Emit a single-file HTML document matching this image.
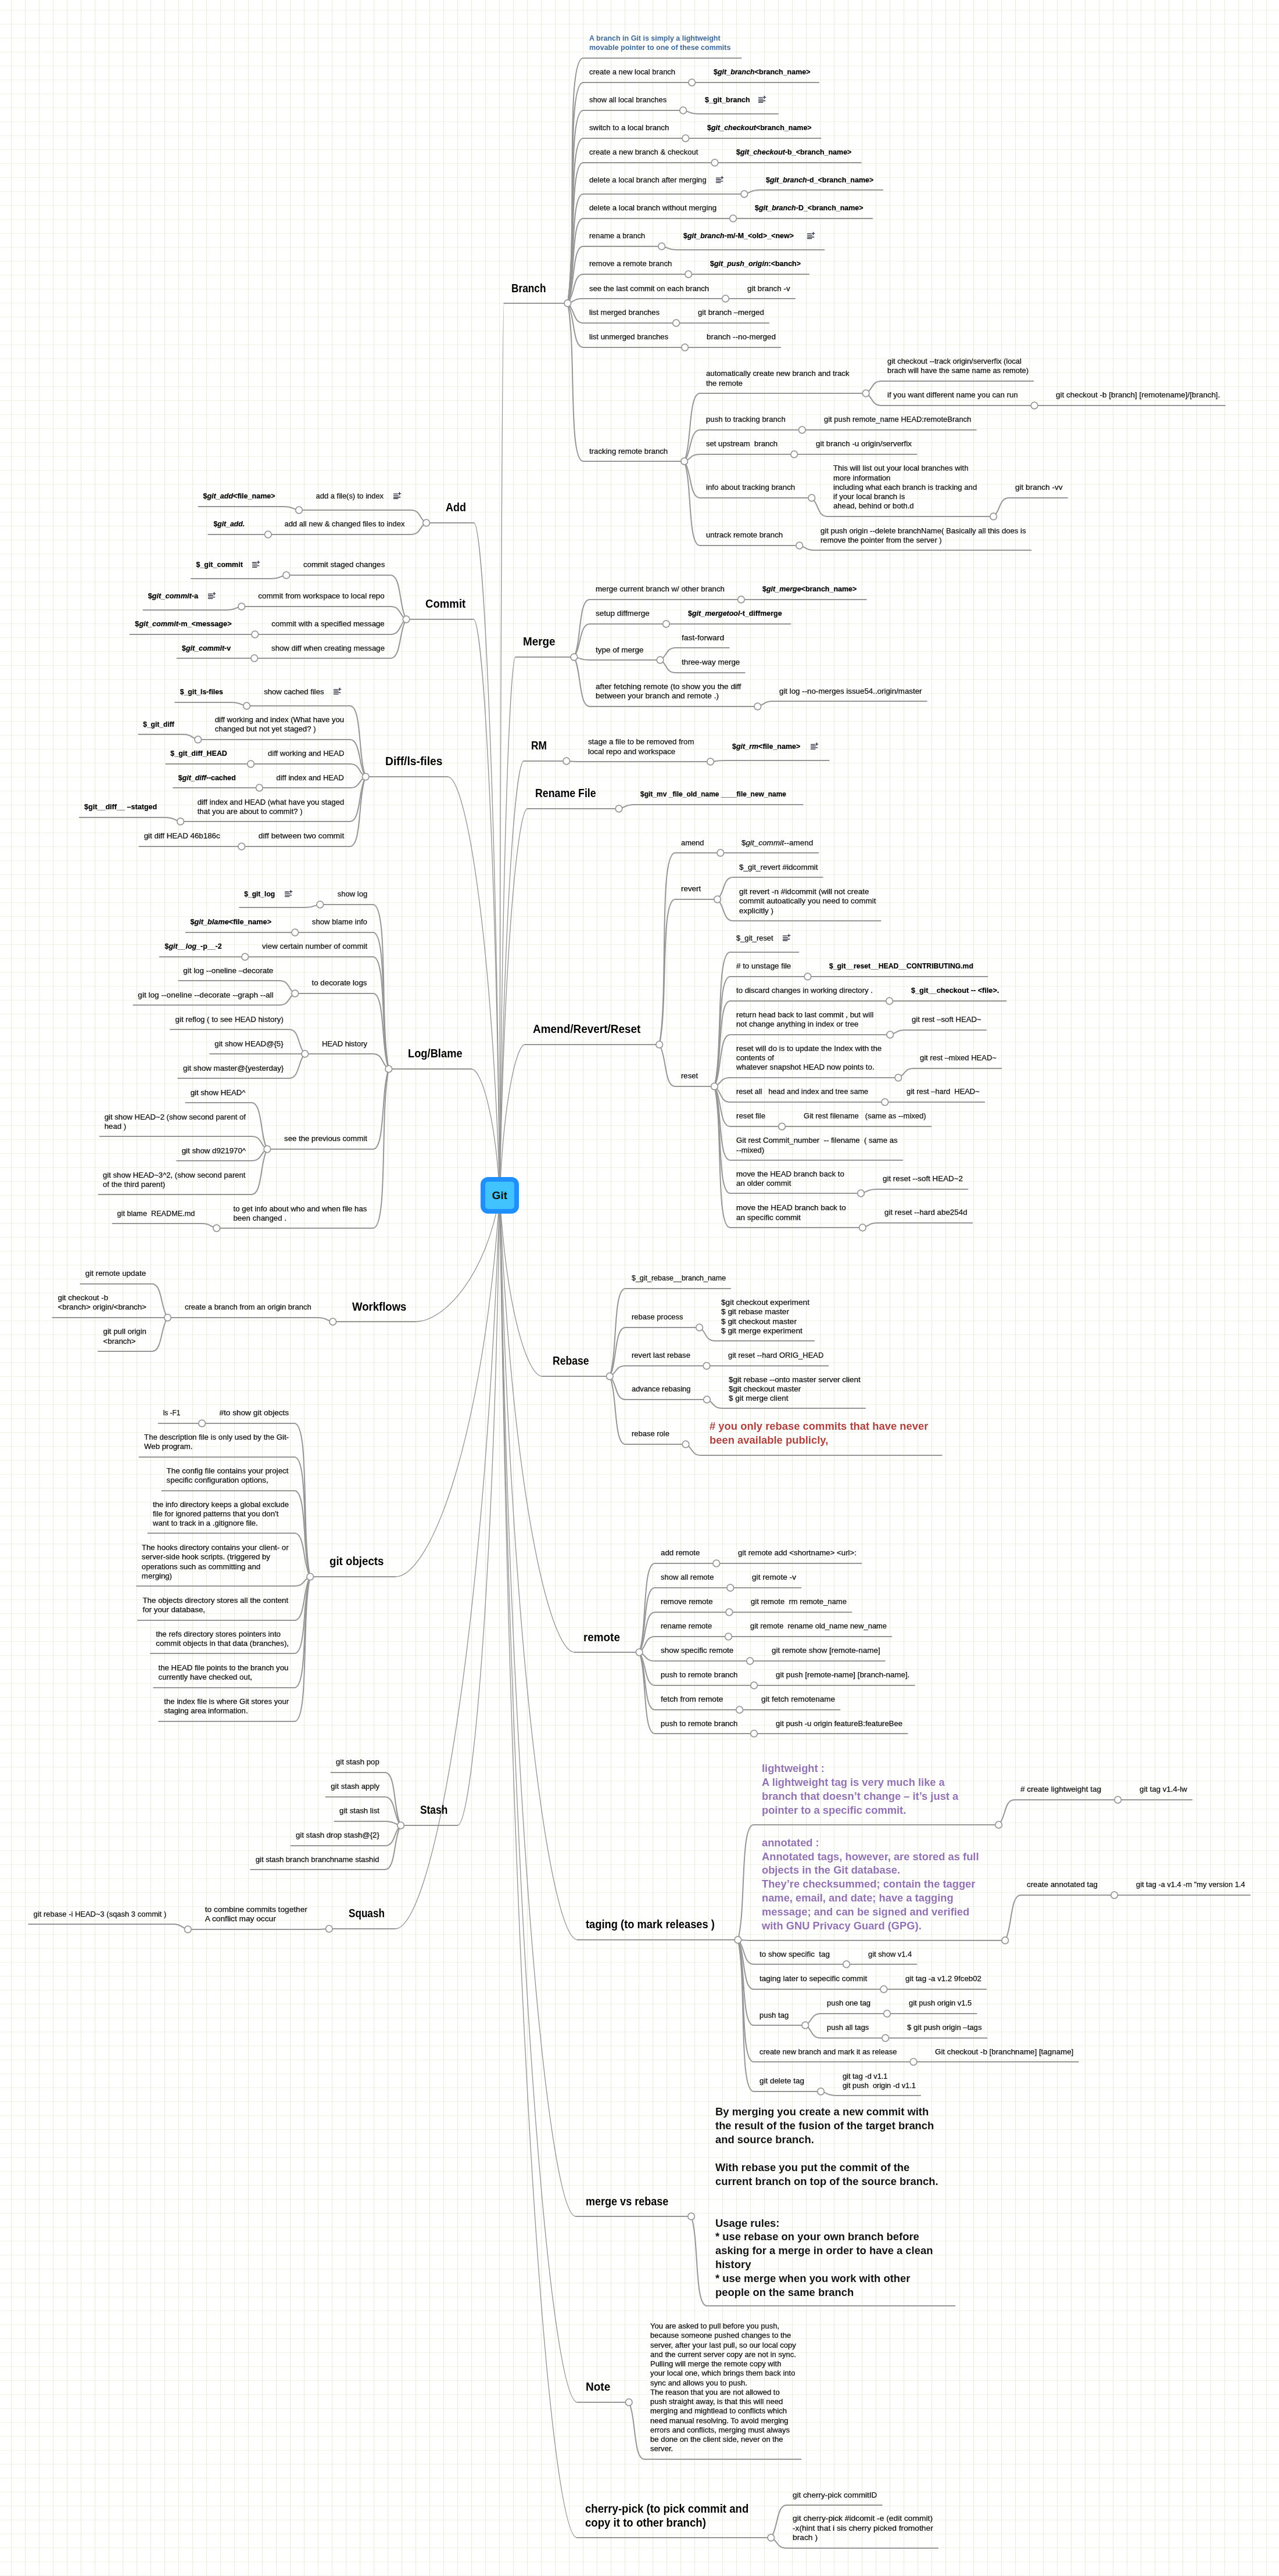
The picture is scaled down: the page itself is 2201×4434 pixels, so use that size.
<!DOCTYPE html>
<html><head><meta charset="utf-8"><style>
html,body{margin:0;padding:0;}
body{width:2201px;height:4434px;overflow:hidden;position:relative;background:#ffffff;
background-image:linear-gradient(to right,#e5eddb 1px,transparent 1px),linear-gradient(to bottom,#eef5e7 1px,transparent 1px);
background-size:24px 24px;background-position:19px 0,0 17px;font-family:"Liberation Sans",sans-serif;}
.t{position:absolute;white-space:pre;margin:0;}
.n{font-size:13px;font-weight:400;color:#111;-webkit-text-stroke:0.25px #111;}
.b{font-size:13px;font-weight:700;color:#000;-webkit-text-stroke:0.2px #000;}
.blue{font-size:13px;font-weight:700;color:#3f6a9a;}
.main{font-size:19.5px;font-weight:700;color:#000;}
.red{font-size:18.7px;font-weight:700;color:#b0413e;transform:scaleX(0.985);transform-origin:0 0;}
.purple{font-size:18.7px;font-weight:700;color:#9272b3;transform:scaleX(0.98);transform-origin:0 0;}
.big{font-size:18.7px;font-weight:700;color:#111;transform:scaleX(0.985);transform-origin:0 0;}
svg{position:absolute;left:0;top:0;}
#tl{position:absolute;left:0;top:0;width:2201px;height:4434px;will-change:transform;}
#git{position:absolute;left:827px;top:2026px;width:66px;height:63px;box-sizing:border-box;border:8px solid #1e8ffc;border-radius:13px;background:#41c4fe;}
#git span{position:absolute;left:0;right:0;top:50%;transform:translateY(-50%);text-align:center;font-size:19px;font-weight:700;color:#111;line-height:20px;}
</style></head><body>

<svg width="2201" height="4434" viewBox="0 0 2201 4434">
<g fill="none" stroke="#969696" stroke-linecap="round">
<path d="M860.0,2057.0 C861.2,1077.7 864.9,522.0 867.4,522.0" stroke-width="1.35"/>
<path d="M867.4,522.0 L976.8,522.0" stroke-width="2.0"/>
<path d="M976.8,522.0 C994.1,408.1 971.4,100.0 1003.8,100.0" stroke-width="2.0"/>
<path d="M1003.8,100.0 L1275.5,100.0" stroke-width="2.0"/>
<path d="M976.8,522.0 C993.5,419.4 973.0,142.0 1003.8,142.0" stroke-width="2.0"/>
<path d="M1003.8,142.0 L1190.6,142.0" stroke-width="2.0"/>
<path d="M1190.6,142.0 L1217.6,142.0" stroke-width="2.0"/>
<path d="M1217.6,142.0 L1409.0,142.0" stroke-width="2.0"/>
<path d="M976.8,522.0 C992.9,432.4 974.9,190.0 1003.8,190.0" stroke-width="2.0"/>
<path d="M1003.8,190.0 L1175.6,190.0" stroke-width="2.0"/>
<path d="M1175.6,190.0 C1187.8,191.6 1184.8,196.0 1202.6,196.0" stroke-width="2.0"/>
<path d="M1202.6,196.0 L1339.0,196.0" stroke-width="2.0"/>
<path d="M976.8,522.0 C992.2,445.3 976.8,238.0 1003.8,238.0" stroke-width="2.0"/>
<path d="M1003.8,238.0 L1179.8,238.0" stroke-width="2.0"/>
<path d="M1179.8,238.0 L1206.8,238.0" stroke-width="2.0"/>
<path d="M1206.8,238.0 L1412.5,238.0" stroke-width="2.0"/>
<path d="M976.8,522.0 C991.6,456.7 978.4,280.0 1003.8,280.0" stroke-width="2.0"/>
<path d="M1003.8,280.0 L1230.0,280.0" stroke-width="2.0"/>
<path d="M1230.0,280.0 L1257.0,280.0" stroke-width="2.0"/>
<path d="M1257.0,280.0 L1481.8,280.0" stroke-width="2.0"/>
<path d="M976.8,522.0 C990.9,471.2 980.5,334.0 1003.8,334.0" stroke-width="2.0"/>
<path d="M1003.8,334.0 L1280.8,334.0" stroke-width="2.0"/>
<path d="M1280.8,334.0 C1293.0,332.1 1290.0,327.0 1307.8,327.0" stroke-width="2.0"/>
<path d="M1307.8,327.0 L1519.2,327.0" stroke-width="2.0"/>
<path d="M976.8,522.0 C990.3,482.6 982.2,376.0 1003.8,376.0" stroke-width="2.0"/>
<path d="M1003.8,376.0 L1261.6,376.0" stroke-width="2.0"/>
<path d="M1261.6,376.0 L1288.6,376.0" stroke-width="2.0"/>
<path d="M1288.6,376.0 L1501.3,376.0" stroke-width="2.0"/>
<path d="M976.8,522.0 C989.6,495.5 984.1,424.0 1003.8,424.0" stroke-width="2.0"/>
<path d="M1003.8,424.0 L1138.7,424.0" stroke-width="2.0"/>
<path d="M1138.7,424.0 C1150.9,425.6 1147.9,430.0 1165.7,430.0" stroke-width="2.0"/>
<path d="M1165.7,430.0 L1418.3,430.0" stroke-width="2.0"/>
<path d="M976.8,522.0 C988.9,508.5 986.0,472.0 1003.8,472.0" stroke-width="2.0"/>
<path d="M1003.8,472.0 L1184.7,472.0" stroke-width="2.0"/>
<path d="M1184.7,472.0 L1211.7,472.0" stroke-width="2.0"/>
<path d="M1211.7,472.0 L1392.0,472.0" stroke-width="2.0"/>
<path d="M976.8,522.0 C988.9,519.8 986.0,514.0 1003.8,514.0" stroke-width="2.0"/>
<path d="M1003.8,514.0 L1248.5,514.0" stroke-width="2.0"/>
<path d="M1248.5,514.0 L1275.5,514.0" stroke-width="2.0"/>
<path d="M1275.5,514.0 L1368.1,514.0" stroke-width="2.0"/>
<path d="M976.8,522.0 C988.9,531.2 986.0,556.0 1003.8,556.0" stroke-width="2.0"/>
<path d="M1003.8,556.0 L1163.6,556.0" stroke-width="2.0"/>
<path d="M1163.6,556.0 L1190.6,556.0" stroke-width="2.0"/>
<path d="M1190.6,556.0 L1323.0,556.0" stroke-width="2.0"/>
<path d="M976.8,522.0 C989.3,542.5 985.0,598.0 1003.8,598.0" stroke-width="2.0"/>
<path d="M1003.8,598.0 L1178.6,598.0" stroke-width="2.0"/>
<path d="M1178.6,598.0 L1205.6,598.0" stroke-width="2.0"/>
<path d="M1205.6,598.0 L1343.2,598.0" stroke-width="2.0"/>
<path d="M976.8,522.0 C992.0,595.4 977.2,794.0 1003.8,794.0" stroke-width="2.0"/>
<path d="M1003.8,794.0 L1177.7,794.0" stroke-width="2.0"/>
<path d="M1177.7,794.0 C1190.8,762.4 1184.2,677.0 1204.7,677.0" stroke-width="2.0"/>
<path d="M1204.7,677.0 L1490.1,677.0" stroke-width="2.0"/>
<path d="M1490.1,677.0 C1502.2,671.3 1499.3,656.0 1517.1,656.0" stroke-width="2.0"/>
<path d="M1517.1,656.0 L1778.3,656.0" stroke-width="2.0"/>
<path d="M1490.1,677.0 C1502.2,682.7 1499.3,698.0 1517.1,698.0" stroke-width="2.0"/>
<path d="M1517.1,698.0 L1780.0,698.0" stroke-width="2.0"/>
<path d="M1780.0,698.0 L1807.0,698.0" stroke-width="2.0"/>
<path d="M1807.0,698.0 L2108.2,698.0" stroke-width="2.0"/>
<path d="M1177.7,794.0 C1189.9,779.4 1186.7,740.0 1204.7,740.0" stroke-width="2.0"/>
<path d="M1204.7,740.0 L1380.3,740.0" stroke-width="2.0"/>
<path d="M1380.3,740.0 L1407.3,740.0" stroke-width="2.0"/>
<path d="M1407.3,740.0 L1679.8,740.0" stroke-width="2.0"/>
<path d="M1177.7,794.0 C1189.9,790.8 1186.9,782.0 1204.7,782.0" stroke-width="2.0"/>
<path d="M1204.7,782.0 L1366.7,782.0" stroke-width="2.0"/>
<path d="M1366.7,782.0 L1393.7,782.0" stroke-width="2.0"/>
<path d="M1393.7,782.0 L1577.3,782.0" stroke-width="2.0"/>
<path d="M1177.7,794.0 C1190.0,811.0 1186.4,857.0 1204.7,857.0" stroke-width="2.0"/>
<path d="M1204.7,857.0 L1396.8,857.0" stroke-width="2.0"/>
<path d="M1396.8,857.0 C1409.0,865.6 1406.0,889.0 1423.8,889.0" stroke-width="2.0"/>
<path d="M1423.8,889.0 L1709.6,889.0" stroke-width="2.0"/>
<path d="M1709.6,889.0 C1721.8,880.4 1718.8,857.0 1736.6,857.0" stroke-width="2.0"/>
<path d="M1736.6,857.0 L1836.8,857.0" stroke-width="2.0"/>
<path d="M1177.7,794.0 C1191.2,833.1 1183.1,939.0 1204.7,939.0" stroke-width="2.0"/>
<path d="M1204.7,939.0 L1375.7,939.0" stroke-width="2.0"/>
<path d="M1375.7,939.0 C1387.9,941.2 1384.9,947.0 1402.7,947.0" stroke-width="2.0"/>
<path d="M1402.7,947.0 L1774.4,947.0" stroke-width="2.0"/>
<path d="M860.0,2057.0 C864.3,1466.2 877.9,1131.0 887.2,1131.0" stroke-width="1.35"/>
<path d="M887.2,1131.0 L987.9,1131.0" stroke-width="2.0"/>
<path d="M987.9,1131.0 C1000.7,1104.3 995.1,1032.0 1014.9,1032.0" stroke-width="2.0"/>
<path d="M1014.9,1032.0 L1275.4,1032.0" stroke-width="2.0"/>
<path d="M1275.4,1032.0 L1302.4,1032.0" stroke-width="2.0"/>
<path d="M1302.4,1032.0 L1490.6,1032.0" stroke-width="2.0"/>
<path d="M987.9,1131.0 C1000.1,1115.6 996.8,1074.0 1014.9,1074.0" stroke-width="2.0"/>
<path d="M1014.9,1074.0 L1146.4,1074.0" stroke-width="2.0"/>
<path d="M1146.4,1074.0 L1173.4,1074.0" stroke-width="2.0"/>
<path d="M1173.4,1074.0 L1360.5,1074.0" stroke-width="2.0"/>
<path d="M987.9,1131.0 C1000.0,1132.3 997.1,1136.0 1014.9,1136.0" stroke-width="2.0"/>
<path d="M1014.9,1136.0 L1136.0,1136.0" stroke-width="2.0"/>
<path d="M1136.0,1136.0 C1148.2,1130.3 1145.2,1115.0 1163.0,1115.0" stroke-width="2.0"/>
<path d="M1163.0,1115.0 L1254.6,1115.0" stroke-width="2.0"/>
<path d="M1136.0,1136.0 C1148.2,1141.9 1145.2,1158.0 1163.0,1158.0" stroke-width="2.0"/>
<path d="M1163.0,1158.0 L1281.8,1158.0" stroke-width="2.0"/>
<path d="M987.9,1131.0 C1000.5,1154.0 995.7,1216.0 1014.9,1216.0" stroke-width="2.0"/>
<path d="M1014.9,1216.0 L1303.8,1216.0" stroke-width="2.0"/>
<path d="M1303.8,1216.0 C1316.0,1213.6 1313.0,1207.0 1330.8,1207.0" stroke-width="2.0"/>
<path d="M1330.8,1207.0 L1594.8,1207.0" stroke-width="2.0"/>
<path d="M860.0,2057.0 C866.5,1580.4 887.2,1310.0 901.3,1310.0" stroke-width="1.35"/>
<path d="M901.3,1310.0 L974.8,1310.0" stroke-width="2.0"/>
<path d="M974.8,1310.0 C986.9,1310.3 984.0,1311.0 1001.8,1311.0" stroke-width="2.0"/>
<path d="M1001.8,1311.0 L1222.6,1311.0" stroke-width="2.0"/>
<path d="M1222.6,1311.0 C1234.8,1310.5 1231.8,1309.0 1249.6,1309.0" stroke-width="2.0"/>
<path d="M1249.6,1309.0 L1426.7,1309.0" stroke-width="2.0"/>
<path d="M860.0,2057.0 C867.5,1632.7 891.4,1392.0 907.6,1392.0" stroke-width="1.35"/>
<path d="M907.6,1392.0 L1065.0,1392.0" stroke-width="2.0"/>
<path d="M1065.0,1392.0 C1077.2,1390.1 1074.2,1385.0 1092.0,1385.0" stroke-width="2.0"/>
<path d="M1092.0,1385.0 L1381.6,1385.0" stroke-width="2.0"/>
<path d="M860.0,2057.0 C866.8,1891.8 888.7,1798.0 903.5,1798.0" stroke-width="1.35"/>
<path d="M903.5,1798.0 L1134.7,1798.0" stroke-width="2.0"/>
<path d="M1134.7,1798.0 C1150.7,1708.9 1132.8,1468.0 1161.7,1468.0" stroke-width="2.0"/>
<path d="M1161.7,1468.0 L1239.8,1468.0" stroke-width="2.0"/>
<path d="M1239.8,1468.0 L1266.8,1468.0" stroke-width="2.0"/>
<path d="M1266.8,1468.0 L1408.2,1468.0" stroke-width="2.0"/>
<path d="M1134.7,1798.0 C1149.6,1730.5 1136.0,1548.0 1161.7,1548.0" stroke-width="2.0"/>
<path d="M1161.7,1548.0 L1234.6,1548.0" stroke-width="2.0"/>
<path d="M1234.6,1548.0 C1246.8,1537.7 1243.8,1510.0 1261.6,1510.0" stroke-width="2.0"/>
<path d="M1261.6,1510.0 L1415.7,1510.0" stroke-width="2.0"/>
<path d="M1234.6,1548.0 C1246.8,1558.0 1243.8,1585.0 1261.6,1585.0" stroke-width="2.0"/>
<path d="M1261.6,1585.0 L1515.6,1585.0" stroke-width="2.0"/>
<path d="M1134.7,1798.0 C1147.2,1817.4 1143.0,1870.0 1161.7,1870.0" stroke-width="2.0"/>
<path d="M1161.7,1870.0 L1229.5,1870.0" stroke-width="2.0"/>
<path d="M1229.5,1870.0 C1244.2,1807.6 1231.5,1639.0 1256.5,1639.0" stroke-width="2.0"/>
<path d="M1256.5,1639.0 L1374.4,1639.0" stroke-width="2.0"/>
<path d="M1229.5,1870.0 C1243.6,1819.0 1233.2,1681.0 1256.5,1681.0" stroke-width="2.0"/>
<path d="M1256.5,1681.0 L1389.9,1681.0" stroke-width="2.0"/>
<path d="M1389.9,1681.0 L1416.9,1681.0" stroke-width="2.0"/>
<path d="M1416.9,1681.0 L1699.4,1681.0" stroke-width="2.0"/>
<path d="M1229.5,1870.0 C1243.0,1830.3 1234.9,1723.0 1256.5,1723.0" stroke-width="2.0"/>
<path d="M1256.5,1723.0 L1530.6,1723.0" stroke-width="2.0"/>
<path d="M1530.6,1723.0 L1557.6,1723.0" stroke-width="2.0"/>
<path d="M1557.6,1723.0 L1731.5,1723.0" stroke-width="2.0"/>
<path d="M1229.5,1870.0 C1242.2,1846.0 1237.1,1781.0 1256.5,1781.0" stroke-width="2.0"/>
<path d="M1256.5,1781.0 L1531.7,1781.0" stroke-width="2.0"/>
<path d="M1531.7,1781.0 C1543.9,1778.8 1540.9,1773.0 1558.7,1773.0" stroke-width="2.0"/>
<path d="M1558.7,1773.0 L1697.0,1773.0" stroke-width="2.0"/>
<path d="M1229.5,1870.0 C1241.7,1866.0 1238.7,1855.0 1256.5,1855.0" stroke-width="2.0"/>
<path d="M1256.5,1855.0 L1545.8,1855.0" stroke-width="2.0"/>
<path d="M1545.8,1855.0 C1558.0,1850.7 1555.0,1839.0 1572.8,1839.0" stroke-width="2.0"/>
<path d="M1572.8,1839.0 L1723.3,1839.0" stroke-width="2.0"/>
<path d="M1229.5,1870.0 C1241.7,1877.3 1238.7,1897.0 1256.5,1897.0" stroke-width="2.0"/>
<path d="M1256.5,1897.0 L1522.8,1897.0" stroke-width="2.0"/>
<path d="M1522.8,1897.0 L1549.8,1897.0" stroke-width="2.0"/>
<path d="M1549.8,1897.0 L1694.2,1897.0" stroke-width="2.0"/>
<path d="M1229.5,1870.0 C1241.9,1888.6 1237.9,1939.0 1256.5,1939.0" stroke-width="2.0"/>
<path d="M1256.5,1939.0 L1345.6,1939.0" stroke-width="2.0"/>
<path d="M1345.6,1939.0 L1372.6,1939.0" stroke-width="2.0"/>
<path d="M1372.6,1939.0 L1602.2,1939.0" stroke-width="2.0"/>
<path d="M1229.5,1870.0 C1242.7,1904.3 1235.6,1997.0 1256.5,1997.0" stroke-width="2.0"/>
<path d="M1256.5,1997.0 L1553.2,1997.0" stroke-width="2.0"/>
<path d="M1229.5,1870.0 C1243.5,1919.7 1233.4,2054.0 1256.5,2054.0" stroke-width="2.0"/>
<path d="M1256.5,2054.0 L1481.5,2054.0" stroke-width="2.0"/>
<path d="M1481.5,2054.0 C1493.7,2052.1 1490.7,2047.0 1508.5,2047.0" stroke-width="2.0"/>
<path d="M1508.5,2047.0 L1665.5,2047.0" stroke-width="2.0"/>
<path d="M1229.5,1870.0 C1244.3,1935.6 1231.1,2113.0 1256.5,2113.0" stroke-width="2.0"/>
<path d="M1256.5,2113.0 L1484.4,2113.0" stroke-width="2.0"/>
<path d="M1484.4,2113.0 C1496.6,2110.8 1493.6,2105.0 1511.4,2105.0" stroke-width="2.0"/>
<path d="M1511.4,2105.0 L1673.1,2105.0" stroke-width="2.0"/>
<path d="M860.0,2057.0 C871.5,2256.1 908.1,2369.0 933.0,2369.0" stroke-width="1.35"/>
<path d="M933.0,2369.0 L1049.3,2369.0" stroke-width="2.0"/>
<path d="M1049.3,2369.0 C1062.9,2328.2 1054.5,2218.0 1076.3,2218.0" stroke-width="2.0"/>
<path d="M1076.3,2218.0 L1257.1,2218.0" stroke-width="2.0"/>
<path d="M1049.3,2369.0 C1061.9,2346.3 1057.1,2285.0 1076.3,2285.0" stroke-width="2.0"/>
<path d="M1076.3,2285.0 L1203.6,2285.0" stroke-width="2.0"/>
<path d="M1203.6,2285.0 C1215.8,2291.2 1212.8,2308.0 1230.6,2308.0" stroke-width="2.0"/>
<path d="M1230.6,2308.0 L1401.2,2308.0" stroke-width="2.0"/>
<path d="M1049.3,2369.0 C1061.5,2364.1 1058.5,2351.0 1076.3,2351.0" stroke-width="2.0"/>
<path d="M1076.3,2351.0 L1216.0,2351.0" stroke-width="2.0"/>
<path d="M1216.0,2351.0 L1243.0,2351.0" stroke-width="2.0"/>
<path d="M1243.0,2351.0 L1425.4,2351.0" stroke-width="2.0"/>
<path d="M1049.3,2369.0 C1061.5,2379.8 1058.5,2409.0 1076.3,2409.0" stroke-width="2.0"/>
<path d="M1076.3,2409.0 L1216.5,2409.0" stroke-width="2.0"/>
<path d="M1216.5,2409.0 C1228.7,2413.1 1225.7,2424.0 1243.5,2424.0" stroke-width="2.0"/>
<path d="M1243.5,2424.0 L1489.0,2424.0" stroke-width="2.0"/>
<path d="M1049.3,2369.0 C1062.4,2400.6 1055.8,2486.0 1076.3,2486.0" stroke-width="2.0"/>
<path d="M1076.3,2486.0 L1180.0,2486.0" stroke-width="2.0"/>
<path d="M1180.0,2486.0 C1192.2,2491.1 1189.2,2505.0 1207.0,2505.0" stroke-width="2.0"/>
<path d="M1207.0,2505.0 L1620.7,2505.0" stroke-width="2.0"/>
<path d="M860.0,2057.0 C880.3,2559.1 945.0,2844.0 989.0,2844.0" stroke-width="1.35"/>
<path d="M989.0,2844.0 L1100.1,2844.0" stroke-width="2.0"/>
<path d="M1100.1,2844.0 C1113.7,2802.7 1105.2,2691.0 1127.1,2691.0" stroke-width="2.0"/>
<path d="M1127.1,2691.0 L1232.8,2691.0" stroke-width="2.0"/>
<path d="M1232.8,2691.0 L1259.8,2691.0" stroke-width="2.0"/>
<path d="M1259.8,2691.0 L1482.4,2691.0" stroke-width="2.0"/>
<path d="M1100.1,2844.0 C1113.1,2814.0 1106.9,2733.0 1127.1,2733.0" stroke-width="2.0"/>
<path d="M1127.1,2733.0 L1256.8,2733.0" stroke-width="2.0"/>
<path d="M1256.8,2733.0 L1283.8,2733.0" stroke-width="2.0"/>
<path d="M1283.8,2733.0 L1378.3,2733.0" stroke-width="2.0"/>
<path d="M1100.1,2844.0 C1112.5,2825.4 1108.5,2775.0 1127.1,2775.0" stroke-width="2.0"/>
<path d="M1127.1,2775.0 L1254.9,2775.0" stroke-width="2.0"/>
<path d="M1254.9,2775.0 L1281.9,2775.0" stroke-width="2.0"/>
<path d="M1281.9,2775.0 L1465.5,2775.0" stroke-width="2.0"/>
<path d="M1100.1,2844.0 C1112.2,2836.7 1109.3,2817.0 1127.1,2817.0" stroke-width="2.0"/>
<path d="M1127.1,2817.0 L1253.5,2817.0" stroke-width="2.0"/>
<path d="M1253.5,2817.0 L1280.5,2817.0" stroke-width="2.0"/>
<path d="M1280.5,2817.0 L1534.5,2817.0" stroke-width="2.0"/>
<path d="M1100.1,2844.0 C1112.2,2848.1 1109.3,2859.0 1127.1,2859.0" stroke-width="2.0"/>
<path d="M1127.1,2859.0 L1290.6,2859.0" stroke-width="2.0"/>
<path d="M1290.6,2859.0 L1317.6,2859.0" stroke-width="2.0"/>
<path d="M1317.6,2859.0 L1522.8,2859.0" stroke-width="2.0"/>
<path d="M1100.1,2844.0 C1112.3,2859.4 1109.0,2901.0 1127.1,2901.0" stroke-width="2.0"/>
<path d="M1127.1,2901.0 L1297.6,2901.0" stroke-width="2.0"/>
<path d="M1297.6,2901.0 L1324.6,2901.0" stroke-width="2.0"/>
<path d="M1324.6,2901.0 L1573.9,2901.0" stroke-width="2.0"/>
<path d="M1100.1,2844.0 C1112.9,2870.7 1107.3,2943.0 1127.1,2943.0" stroke-width="2.0"/>
<path d="M1127.1,2943.0 L1272.7,2943.0" stroke-width="2.0"/>
<path d="M1272.7,2943.0 L1299.7,2943.0" stroke-width="2.0"/>
<path d="M1299.7,2943.0 L1445.4,2943.0" stroke-width="2.0"/>
<path d="M1100.1,2844.0 C1113.5,2881.8 1105.7,2984.0 1127.1,2984.0" stroke-width="2.0"/>
<path d="M1127.1,2984.0 L1297.6,2984.0" stroke-width="2.0"/>
<path d="M1297.6,2984.0 L1324.6,2984.0" stroke-width="2.0"/>
<path d="M1324.6,2984.0 L1561.7,2984.0" stroke-width="2.0"/>
<path d="M860.0,2057.0 C881.0,2874.9 948.3,3339.0 994.0,3339.0" stroke-width="1.35"/>
<path d="M994.0,3339.0 L1269.9,3339.0" stroke-width="2.0"/>
<path d="M1269.9,3339.0 C1284.1,3285.5 1273.2,3141.0 1296.9,3141.0" stroke-width="2.0"/>
<path d="M1296.9,3141.0 L1718.6,3141.0" stroke-width="2.0"/>
<path d="M1718.6,3141.0 C1730.8,3129.4 1727.8,3098.0 1745.6,3098.0" stroke-width="2.0"/>
<path d="M1745.6,3098.0 L1923.7,3098.0" stroke-width="2.0"/>
<path d="M1923.7,3098.0 L1950.7,3098.0" stroke-width="2.0"/>
<path d="M1950.7,3098.0 L2051.4,3098.0" stroke-width="2.0"/>
<path d="M1269.9,3339.0 C1282.1,3339.3 1279.1,3340.0 1296.9,3340.0" stroke-width="2.0"/>
<path d="M1296.9,3340.0 L1729.7,3340.0" stroke-width="2.0"/>
<path d="M1729.7,3340.0 C1742.2,3318.9 1737.8,3262.0 1756.7,3262.0" stroke-width="2.0"/>
<path d="M1756.7,3262.0 L1917.6,3262.0" stroke-width="2.0"/>
<path d="M1917.6,3262.0 L1944.6,3262.0" stroke-width="2.0"/>
<path d="M1944.6,3262.0 L2151.1,3262.0" stroke-width="2.0"/>
<path d="M1269.9,3339.0 C1282.1,3350.3 1279.1,3381.0 1296.9,3381.0" stroke-width="2.0"/>
<path d="M1296.9,3381.0 L1456.6,3381.0" stroke-width="2.0"/>
<path d="M1456.6,3381.0 L1483.6,3381.0" stroke-width="2.0"/>
<path d="M1483.6,3381.0 L1577.3,3381.0" stroke-width="2.0"/>
<path d="M1269.9,3339.0 C1282.5,3361.9 1277.7,3424.0 1296.9,3424.0" stroke-width="2.0"/>
<path d="M1296.9,3424.0 L1520.9,3424.0" stroke-width="2.0"/>
<path d="M1520.9,3424.0 L1547.9,3424.0" stroke-width="2.0"/>
<path d="M1547.9,3424.0 L1697.1,3424.0" stroke-width="2.0"/>
<path d="M1269.9,3339.0 C1283.4,3378.7 1275.3,3486.0 1296.9,3486.0" stroke-width="2.0"/>
<path d="M1296.9,3486.0 L1385.8,3486.0" stroke-width="2.0"/>
<path d="M1385.8,3486.0 C1398.0,3480.6 1395.0,3466.0 1412.8,3466.0" stroke-width="2.0"/>
<path d="M1412.8,3466.0 L1526.5,3466.0" stroke-width="2.0"/>
<path d="M1526.5,3466.0 L1553.5,3466.0" stroke-width="2.0"/>
<path d="M1553.5,3466.0 L1680.5,3466.0" stroke-width="2.0"/>
<path d="M1385.8,3486.0 C1398.0,3491.9 1395.0,3508.0 1412.8,3508.0" stroke-width="2.0"/>
<path d="M1412.8,3508.0 L1523.7,3508.0" stroke-width="2.0"/>
<path d="M1523.7,3508.0 L1550.7,3508.0" stroke-width="2.0"/>
<path d="M1550.7,3508.0 L1698.3,3508.0" stroke-width="2.0"/>
<path d="M1269.9,3339.0 C1284.3,3395.7 1272.8,3549.0 1296.9,3549.0" stroke-width="2.0"/>
<path d="M1296.9,3549.0 L1572.0,3549.0" stroke-width="2.0"/>
<path d="M1572.0,3549.0 L1599.0,3549.0" stroke-width="2.0"/>
<path d="M1599.0,3549.0 L1855.7,3549.0" stroke-width="2.0"/>
<path d="M1269.9,3339.0 C1285.0,3409.5 1270.8,3600.0 1296.9,3600.0" stroke-width="2.0"/>
<path d="M1296.9,3600.0 L1412.5,3600.0" stroke-width="2.0"/>
<path d="M1412.5,3600.0 C1424.7,3601.9 1421.7,3607.0 1439.5,3607.0" stroke-width="2.0"/>
<path d="M1439.5,3607.0 L1584.1,3607.0" stroke-width="2.0"/>
<path d="M860.0,2057.0 C880.6,3178.6 946.3,3815.0 991.0,3815.0" stroke-width="1.35"/>
<path d="M991.0,3815.0 L1189.6,3815.0" stroke-width="2.0"/>
<path d="M1189.6,3815.0 C1203.2,3856.6 1194.7,3969.0 1216.6,3969.0" stroke-width="2.0"/>
<path d="M1216.6,3969.0 L1643.3,3969.0" stroke-width="2.0"/>
<path d="M860.0,2057.0 C881.0,3382.8 948.2,4135.0 993.8,4135.0" stroke-width="1.35"/>
<path d="M993.8,4135.0 L1082.2,4135.0" stroke-width="2.0"/>
<path d="M1082.2,4135.0 C1095.0,4161.5 1089.5,4233.0 1109.2,4233.0" stroke-width="2.0"/>
<path d="M1109.2,4233.0 L1378.4,4233.0" stroke-width="2.0"/>
<path d="M860.0,2057.0 C880.9,3531.4 947.6,4368.0 993.0,4368.0" stroke-width="1.35"/>
<path d="M993.0,4368.0 L1326.8,4368.0" stroke-width="2.0"/>
<path d="M1326.8,4368.0 C1339.0,4352.9 1335.7,4312.0 1353.8,4312.0" stroke-width="2.0"/>
<path d="M1353.8,4312.0 L1517.7,4312.0" stroke-width="2.0"/>
<path d="M1326.8,4368.0 C1339.0,4372.9 1336.0,4386.0 1353.8,4386.0" stroke-width="2.0"/>
<path d="M1353.8,4386.0 L1614.2,4386.0" stroke-width="2.0"/>
<path d="M860.0,2057.0 C853.0,1318.8 830.7,900.0 815.5,900.0" stroke-width="1.35"/>
<path d="M815.5,900.0 L733.6,900.0" stroke-width="2.0"/>
<path d="M733.6,900.0 C721.5,894.1 724.4,878.0 706.6,878.0" stroke-width="2.0"/>
<path d="M706.6,878.0 L514.5,878.0" stroke-width="2.0"/>
<path d="M514.5,878.0 C502.4,876.4 505.3,872.0 487.5,872.0" stroke-width="2.0"/>
<path d="M487.5,872.0 L341.4,872.0" stroke-width="2.0"/>
<path d="M733.6,900.0 C721.5,905.4 724.4,920.0 706.6,920.0" stroke-width="2.0"/>
<path d="M706.6,920.0 L461.3,920.0" stroke-width="2.0"/>
<path d="M461.3,920.0 L434.3,920.0" stroke-width="2.0"/>
<path d="M434.3,920.0 L358.3,920.0" stroke-width="2.0"/>
<path d="M860.0,2057.0 C852.9,1424.7 830.2,1066.0 814.8,1066.0" stroke-width="1.35"/>
<path d="M814.8,1066.0 L699.1,1066.0" stroke-width="2.0"/>
<path d="M699.1,1066.0 C686.6,1045.5 690.9,990.0 672.1,990.0" stroke-width="2.0"/>
<path d="M672.1,990.0 L492.7,990.0" stroke-width="2.0"/>
<path d="M492.7,990.0 C480.6,991.6 483.5,996.0 465.7,996.0" stroke-width="2.0"/>
<path d="M465.7,996.0 L328.6,996.0" stroke-width="2.0"/>
<path d="M699.1,1066.0 C687.0,1060.1 689.9,1044.0 672.1,1044.0" stroke-width="2.0"/>
<path d="M672.1,1044.0 L415.7,1044.0" stroke-width="2.0"/>
<path d="M415.7,1044.0 C403.6,1045.6 406.5,1050.0 388.7,1050.0" stroke-width="2.0"/>
<path d="M388.7,1050.0 L246.5,1050.0" stroke-width="2.0"/>
<path d="M699.1,1066.0 C687.0,1073.0 689.9,1092.0 672.1,1092.0" stroke-width="2.0"/>
<path d="M672.1,1092.0 L438.7,1092.0" stroke-width="2.0"/>
<path d="M438.7,1092.0 L411.7,1092.0" stroke-width="2.0"/>
<path d="M411.7,1092.0 L223.5,1092.0" stroke-width="2.0"/>
<path d="M699.1,1066.0 C686.7,1084.1 690.6,1133.0 672.1,1133.0" stroke-width="2.0"/>
<path d="M672.1,1133.0 L437.7,1133.0" stroke-width="2.0"/>
<path d="M437.7,1133.0 L410.7,1133.0" stroke-width="2.0"/>
<path d="M410.7,1133.0 L304.6,1133.0" stroke-width="2.0"/>
<path d="M860.0,2057.0 C845.9,1597.6 801.0,1337.0 770.4,1337.0" stroke-width="1.35"/>
<path d="M770.4,1337.0 L629.2,1337.0" stroke-width="2.0"/>
<path d="M629.2,1337.0 C616.1,1304.1 622.9,1215.0 602.2,1215.0" stroke-width="2.0"/>
<path d="M602.2,1215.0 L424.5,1215.0" stroke-width="2.0"/>
<path d="M424.5,1215.0 C412.4,1213.4 415.3,1209.0 397.5,1209.0" stroke-width="2.0"/>
<path d="M397.5,1209.0 L301.3,1209.0" stroke-width="2.0"/>
<path d="M629.2,1337.0 C616.9,1319.7 620.6,1273.0 602.2,1273.0" stroke-width="2.0"/>
<path d="M602.2,1273.0 L340.7,1273.0" stroke-width="2.0"/>
<path d="M340.7,1273.0 C328.6,1270.6 331.5,1264.0 313.7,1264.0" stroke-width="2.0"/>
<path d="M313.7,1264.0 L238.4,1264.0" stroke-width="2.0"/>
<path d="M629.2,1337.0 C617.1,1331.1 620.0,1315.0 602.2,1315.0" stroke-width="2.0"/>
<path d="M602.2,1315.0 L431.6,1315.0" stroke-width="2.0"/>
<path d="M431.6,1315.0 L404.6,1315.0" stroke-width="2.0"/>
<path d="M404.6,1315.0 L285.4,1315.0" stroke-width="2.0"/>
<path d="M629.2,1337.0 C617.1,1342.1 620.0,1356.0 602.2,1356.0" stroke-width="2.0"/>
<path d="M602.2,1356.0 L446.3,1356.0" stroke-width="2.0"/>
<path d="M446.3,1356.0 L419.3,1356.0" stroke-width="2.0"/>
<path d="M419.3,1356.0 L298.0,1356.0" stroke-width="2.0"/>
<path d="M629.2,1337.0 C616.7,1357.8 621.1,1414.0 602.2,1414.0" stroke-width="2.0"/>
<path d="M602.2,1414.0 L310.6,1414.0" stroke-width="2.0"/>
<path d="M310.6,1414.0 C298.5,1412.1 301.4,1407.0 283.6,1407.0" stroke-width="2.0"/>
<path d="M283.6,1407.0 L136.6,1407.0" stroke-width="2.0"/>
<path d="M629.2,1337.0 C616.1,1369.4 622.8,1457.0 602.2,1457.0" stroke-width="2.0"/>
<path d="M602.2,1457.0 L415.7,1457.0" stroke-width="2.0"/>
<path d="M415.7,1457.0 L388.7,1457.0" stroke-width="2.0"/>
<path d="M388.7,1457.0 L239.5,1457.0" stroke-width="2.0"/>
<path d="M860.0,2057.0 C852.4,1918.6 827.9,1840.0 811.3,1840.0" stroke-width="1.35"/>
<path d="M811.3,1840.0 L668.9,1840.0" stroke-width="2.0"/>
<path d="M668.9,1840.0 C653.5,1763.6 668.9,1557.0 641.9,1557.0" stroke-width="2.0"/>
<path d="M641.9,1557.0 L550.8,1557.0" stroke-width="2.0"/>
<path d="M550.8,1557.0 C538.6,1558.3 541.6,1562.0 523.8,1562.0" stroke-width="2.0"/>
<path d="M523.8,1562.0 L412.2,1562.0" stroke-width="2.0"/>
<path d="M668.9,1840.0 C654.2,1776.5 667.0,1605.0 641.9,1605.0" stroke-width="2.0"/>
<path d="M641.9,1605.0 L507.7,1605.0" stroke-width="2.0"/>
<path d="M507.7,1605.0 L480.7,1605.0" stroke-width="2.0"/>
<path d="M480.7,1605.0 L319.6,1605.0" stroke-width="2.0"/>
<path d="M668.9,1840.0 C654.8,1787.9 665.4,1647.0 641.9,1647.0" stroke-width="2.0"/>
<path d="M641.9,1647.0 L421.7,1647.0" stroke-width="2.0"/>
<path d="M421.7,1647.0 L394.7,1647.0" stroke-width="2.0"/>
<path d="M394.7,1647.0 L274.6,1647.0" stroke-width="2.0"/>
<path d="M668.9,1840.0 C655.6,1804.9 662.9,1710.0 641.9,1710.0" stroke-width="2.0"/>
<path d="M641.9,1710.0 L507.7,1710.0" stroke-width="2.0"/>
<path d="M507.7,1710.0 C495.6,1704.1 498.5,1688.0 480.7,1688.0" stroke-width="2.0"/>
<path d="M480.7,1688.0 L307.1,1688.0" stroke-width="2.0"/>
<path d="M507.7,1710.0 C495.6,1715.4 498.5,1730.0 480.7,1730.0" stroke-width="2.0"/>
<path d="M480.7,1730.0 L229.5,1730.0" stroke-width="2.0"/>
<path d="M668.9,1840.0 C656.8,1833.0 659.7,1814.0 641.9,1814.0" stroke-width="2.0"/>
<path d="M641.9,1814.0 L524.8,1814.0" stroke-width="2.0"/>
<path d="M524.8,1814.0 C512.6,1802.7 515.6,1772.0 497.8,1772.0" stroke-width="2.0"/>
<path d="M497.8,1772.0 L293.0,1772.0" stroke-width="2.0"/>
<path d="M524.8,1814.0 L497.8,1814.0" stroke-width="2.0"/>
<path d="M497.8,1814.0 L361.1,1814.0" stroke-width="2.0"/>
<path d="M524.8,1814.0 C512.6,1825.3 515.6,1856.0 497.8,1856.0" stroke-width="2.0"/>
<path d="M497.8,1856.0 L306.1,1856.0" stroke-width="2.0"/>
<path d="M668.9,1840.0 C655.5,1877.3 663.2,1978.0 641.9,1978.0" stroke-width="2.0"/>
<path d="M641.9,1978.0 L459.9,1978.0" stroke-width="2.0"/>
<path d="M459.9,1978.0 C447.3,1956.4 451.9,1898.0 432.9,1898.0" stroke-width="2.0"/>
<path d="M432.9,1898.0 L319.5,1898.0" stroke-width="2.0"/>
<path d="M459.9,1978.0 C447.8,1972.1 450.7,1956.0 432.9,1956.0" stroke-width="2.0"/>
<path d="M432.9,1956.0 L171.7,1956.0" stroke-width="2.0"/>
<path d="M459.9,1978.0 C447.8,1983.4 450.7,1998.0 432.9,1998.0" stroke-width="2.0"/>
<path d="M432.9,1998.0 L304.1,1998.0" stroke-width="2.0"/>
<path d="M459.9,1978.0 C447.4,1999.1 451.8,2056.0 432.9,2056.0" stroke-width="2.0"/>
<path d="M432.9,2056.0 L169.6,2056.0" stroke-width="2.0"/>
<path d="M668.9,1840.0 C653.6,1914.0 668.5,2114.0 641.9,2114.0" stroke-width="2.0"/>
<path d="M641.9,2114.0 L372.7,2114.0" stroke-width="2.0"/>
<path d="M372.7,2114.0 C360.6,2111.8 363.5,2106.0 345.7,2106.0" stroke-width="2.0"/>
<path d="M345.7,2106.0 L193.5,2106.0" stroke-width="2.0"/>
<path d="M860.0,2057.0 C837.2,2196.1 764.2,2275.0 714.7,2275.0" stroke-width="1.35"/>
<path d="M714.7,2275.0 L572.8,2275.0" stroke-width="2.0"/>
<path d="M572.8,2275.0 C560.6,2273.1 563.6,2268.0 545.8,2268.0" stroke-width="2.0"/>
<path d="M545.8,2268.0 L288.5,2268.0" stroke-width="2.0"/>
<path d="M288.5,2268.0 C276.2,2252.3 279.6,2210.0 261.5,2210.0" stroke-width="2.0"/>
<path d="M261.5,2210.0 L138.3,2210.0" stroke-width="2.0"/>
<path d="M288.5,2268.0 L261.5,2268.0" stroke-width="2.0"/>
<path d="M261.5,2268.0 L90.3,2268.0" stroke-width="2.0"/>
<path d="M288.5,2268.0 C276.2,2283.7 279.6,2326.0 261.5,2326.0" stroke-width="2.0"/>
<path d="M261.5,2326.0 L168.8,2326.0" stroke-width="2.0"/>
<path d="M860.0,2057.0 C831.7,2476.2 741.4,2714.0 680.0,2714.0" stroke-width="1.35"/>
<path d="M680.0,2714.0 L533.7,2714.0" stroke-width="2.0"/>
<path d="M533.7,2714.0 C518.6,2642.7 533.0,2450.0 506.7,2450.0" stroke-width="2.0"/>
<path d="M506.7,2450.0 L347.6,2450.0" stroke-width="2.0"/>
<path d="M347.6,2450.0 L320.6,2450.0" stroke-width="2.0"/>
<path d="M320.6,2450.0 L272.5,2450.0" stroke-width="2.0"/>
<path d="M533.7,2714.0 C519.4,2658.4 530.7,2508.0 506.7,2508.0" stroke-width="2.0"/>
<path d="M506.7,2508.0 L239.5,2508.0" stroke-width="2.0"/>
<path d="M533.7,2714.0 C520.2,2674.0 528.4,2566.0 506.7,2566.0" stroke-width="2.0"/>
<path d="M506.7,2566.0 L278.5,2566.0" stroke-width="2.0"/>
<path d="M533.7,2714.0 C521.2,2693.8 525.5,2639.0 506.7,2639.0" stroke-width="2.0"/>
<path d="M506.7,2639.0 L254.5,2639.0" stroke-width="2.0"/>
<path d="M533.7,2714.0 C521.6,2718.3 524.5,2730.0 506.7,2730.0" stroke-width="2.0"/>
<path d="M506.7,2730.0 L235.0,2730.0" stroke-width="2.0"/>
<path d="M533.7,2714.0 C521.2,2734.2 525.5,2789.0 506.7,2789.0" stroke-width="2.0"/>
<path d="M506.7,2789.0 L236.9,2789.0" stroke-width="2.0"/>
<path d="M533.7,2714.0 C520.4,2749.6 527.8,2846.0 506.7,2846.0" stroke-width="2.0"/>
<path d="M506.7,2846.0 L259.0,2846.0" stroke-width="2.0"/>
<path d="M533.7,2714.0 C519.6,2765.6 530.1,2905.0 506.7,2905.0" stroke-width="2.0"/>
<path d="M506.7,2905.0 L264.3,2905.0" stroke-width="2.0"/>
<path d="M533.7,2714.0 C518.8,2781.2 532.4,2963.0 506.7,2963.0" stroke-width="2.0"/>
<path d="M506.7,2963.0 L273.0,2963.0" stroke-width="2.0"/>
<path d="M860.0,2057.0 C848.6,2749.2 812.0,3142.0 787.2,3142.0" stroke-width="1.35"/>
<path d="M787.2,3142.0 L689.6,3142.0" stroke-width="2.0"/>
<path d="M689.6,3142.0 C676.9,3117.4 682.0,3051.0 662.6,3051.0" stroke-width="2.0"/>
<path d="M662.6,3051.0 L569.5,3051.0" stroke-width="2.0"/>
<path d="M689.6,3142.0 C677.5,3128.8 680.4,3093.0 662.6,3093.0" stroke-width="2.0"/>
<path d="M662.6,3093.0 L560.5,3093.0" stroke-width="2.0"/>
<path d="M689.6,3142.0 C677.5,3140.1 680.4,3135.0 662.6,3135.0" stroke-width="2.0"/>
<path d="M662.6,3135.0 L575.5,3135.0" stroke-width="2.0"/>
<path d="M689.6,3142.0 C677.5,3151.4 680.4,3177.0 662.6,3177.0" stroke-width="2.0"/>
<path d="M662.6,3177.0 L500.5,3177.0" stroke-width="2.0"/>
<path d="M689.6,3142.0 C677.1,3162.5 681.4,3218.0 662.6,3218.0" stroke-width="2.0"/>
<path d="M662.6,3218.0 L431.1,3218.0" stroke-width="2.0"/>
<path d="M860.0,2057.0 C831.7,2862.8 741.3,3320.0 679.9,3320.0" stroke-width="1.35"/>
<path d="M679.9,3320.0 L566.3,3320.0" stroke-width="2.0"/>
<path d="M566.3,3320.0 C554.1,3320.3 557.1,3321.0 539.3,3321.0" stroke-width="2.0"/>
<path d="M539.3,3321.0 L323.3,3321.0" stroke-width="2.0"/>
<path d="M323.3,3321.0 C311.2,3318.6 314.1,3312.0 296.3,3312.0" stroke-width="2.0"/>
<path d="M296.3,3312.0 L49.3,3312.0" stroke-width="2.0"/>
</g>
<g fill="#fff" stroke="#969696" stroke-width="1.7">
<circle cx="976.8" cy="522.0" r="5.8"/>
<circle cx="1190.6" cy="142.0" r="5.8"/>
<circle cx="1175.6" cy="190.0" r="5.8"/>
<circle cx="1179.8" cy="238.0" r="5.8"/>
<circle cx="1230.0" cy="280.0" r="5.8"/>
<circle cx="1280.8" cy="334.0" r="5.8"/>
<circle cx="1261.6" cy="376.0" r="5.8"/>
<circle cx="1138.7" cy="424.0" r="5.8"/>
<circle cx="1184.7" cy="472.0" r="5.8"/>
<circle cx="1248.5" cy="514.0" r="5.8"/>
<circle cx="1163.6" cy="556.0" r="5.8"/>
<circle cx="1178.6" cy="598.0" r="5.8"/>
<circle cx="1177.7" cy="794.0" r="5.8"/>
<circle cx="1490.1" cy="677.0" r="5.8"/>
<circle cx="1780.0" cy="698.0" r="5.8"/>
<circle cx="1380.3" cy="740.0" r="5.8"/>
<circle cx="1366.7" cy="782.0" r="5.8"/>
<circle cx="1396.8" cy="857.0" r="5.8"/>
<circle cx="1709.6" cy="889.0" r="5.8"/>
<circle cx="1375.7" cy="939.0" r="5.8"/>
<circle cx="987.9" cy="1131.0" r="5.8"/>
<circle cx="1275.4" cy="1032.0" r="5.8"/>
<circle cx="1146.4" cy="1074.0" r="5.8"/>
<circle cx="1136.0" cy="1136.0" r="5.8"/>
<circle cx="1303.8" cy="1216.0" r="5.8"/>
<circle cx="974.8" cy="1310.0" r="5.8"/>
<circle cx="1222.6" cy="1311.0" r="5.8"/>
<circle cx="1065.0" cy="1392.0" r="5.8"/>
<circle cx="1134.7" cy="1798.0" r="5.8"/>
<circle cx="1239.8" cy="1468.0" r="5.8"/>
<circle cx="1234.6" cy="1548.0" r="5.8"/>
<circle cx="1229.5" cy="1870.0" r="5.8"/>
<circle cx="1389.9" cy="1681.0" r="5.8"/>
<circle cx="1530.6" cy="1723.0" r="5.8"/>
<circle cx="1531.7" cy="1781.0" r="5.8"/>
<circle cx="1545.8" cy="1855.0" r="5.8"/>
<circle cx="1522.8" cy="1897.0" r="5.8"/>
<circle cx="1345.6" cy="1939.0" r="5.8"/>
<circle cx="1481.5" cy="2054.0" r="5.8"/>
<circle cx="1484.4" cy="2113.0" r="5.8"/>
<circle cx="1049.3" cy="2369.0" r="5.8"/>
<circle cx="1203.6" cy="2285.0" r="5.8"/>
<circle cx="1216.0" cy="2351.0" r="5.8"/>
<circle cx="1216.5" cy="2409.0" r="5.8"/>
<circle cx="1180.0" cy="2486.0" r="5.8"/>
<circle cx="1100.1" cy="2844.0" r="5.8"/>
<circle cx="1232.8" cy="2691.0" r="5.8"/>
<circle cx="1256.8" cy="2733.0" r="5.8"/>
<circle cx="1254.9" cy="2775.0" r="5.8"/>
<circle cx="1253.5" cy="2817.0" r="5.8"/>
<circle cx="1290.6" cy="2859.0" r="5.8"/>
<circle cx="1297.6" cy="2901.0" r="5.8"/>
<circle cx="1272.7" cy="2943.0" r="5.8"/>
<circle cx="1297.6" cy="2984.0" r="5.8"/>
<circle cx="1269.9" cy="3339.0" r="5.8"/>
<circle cx="1718.6" cy="3141.0" r="5.8"/>
<circle cx="1923.7" cy="3098.0" r="5.8"/>
<circle cx="1729.7" cy="3340.0" r="5.8"/>
<circle cx="1917.6" cy="3262.0" r="5.8"/>
<circle cx="1456.6" cy="3381.0" r="5.8"/>
<circle cx="1520.9" cy="3424.0" r="5.8"/>
<circle cx="1385.8" cy="3486.0" r="5.8"/>
<circle cx="1526.5" cy="3466.0" r="5.8"/>
<circle cx="1523.7" cy="3508.0" r="5.8"/>
<circle cx="1572.0" cy="3549.0" r="5.8"/>
<circle cx="1412.5" cy="3600.0" r="5.8"/>
<circle cx="1189.6" cy="3815.0" r="5.8"/>
<circle cx="1082.2" cy="4135.0" r="5.8"/>
<circle cx="1326.8" cy="4368.0" r="5.8"/>
<circle cx="733.6" cy="900.0" r="5.8"/>
<circle cx="514.5" cy="878.0" r="5.8"/>
<circle cx="461.3" cy="920.0" r="5.8"/>
<circle cx="699.1" cy="1066.0" r="5.8"/>
<circle cx="492.7" cy="990.0" r="5.8"/>
<circle cx="415.7" cy="1044.0" r="5.8"/>
<circle cx="438.7" cy="1092.0" r="5.8"/>
<circle cx="437.7" cy="1133.0" r="5.8"/>
<circle cx="629.2" cy="1337.0" r="5.8"/>
<circle cx="424.5" cy="1215.0" r="5.8"/>
<circle cx="340.7" cy="1273.0" r="5.8"/>
<circle cx="431.6" cy="1315.0" r="5.8"/>
<circle cx="446.3" cy="1356.0" r="5.8"/>
<circle cx="310.6" cy="1414.0" r="5.8"/>
<circle cx="415.7" cy="1457.0" r="5.8"/>
<circle cx="668.9" cy="1840.0" r="5.8"/>
<circle cx="550.8" cy="1557.0" r="5.8"/>
<circle cx="507.7" cy="1605.0" r="5.8"/>
<circle cx="421.7" cy="1647.0" r="5.8"/>
<circle cx="507.7" cy="1710.0" r="5.8"/>
<circle cx="524.8" cy="1814.0" r="5.8"/>
<circle cx="459.9" cy="1978.0" r="5.8"/>
<circle cx="372.7" cy="2114.0" r="5.8"/>
<circle cx="572.8" cy="2275.0" r="5.8"/>
<circle cx="288.5" cy="2268.0" r="5.8"/>
<circle cx="533.7" cy="2714.0" r="5.8"/>
<circle cx="347.6" cy="2450.0" r="5.8"/>
<circle cx="689.6" cy="3142.0" r="5.8"/>
<circle cx="566.3" cy="3320.0" r="5.8"/>
<circle cx="323.3" cy="3321.0" r="5.8"/>
</g>
<g stroke="#25253a" stroke-width="1.35" fill="none" stroke-linecap="round">
<path d="M1305.5,167.9 h6.3 M1305.5,170.6 h7.9 M1305.5,173.5 h11.2 M1305.5,176.0 h7.3" />
<path d="M1315.5,165.2 v4.5 M1313.2,167.4 h4.6" stroke-width="1.25"/>
<path d="M1232.5,306.3 h6.3 M1232.5,309.0 h7.9 M1232.5,311.9 h11.2 M1232.5,314.4 h7.3" />
<path d="M1242.5,303.6 v4.5 M1240.2,305.8 h4.6" stroke-width="1.25"/>
<path d="M1389.5,402.4 h6.3 M1389.5,405.1 h7.9 M1389.5,408.0 h11.2 M1389.5,410.5 h7.3" />
<path d="M1399.5,399.7 v4.5 M1397.2,401.9 h4.6" stroke-width="1.25"/>
<path d="M1395.5,1281.3 h6.3 M1395.5,1284.0 h7.9 M1395.5,1286.9 h11.2 M1395.5,1289.4 h7.3" />
<path d="M1405.5,1278.6 v4.5 M1403.2,1280.8 h4.6" stroke-width="1.25"/>
<path d="M1347.5,1610.9 h6.3 M1347.5,1613.6 h7.9 M1347.5,1616.5 h11.2 M1347.5,1619.0 h7.3" />
<path d="M1357.5,1608.2 v4.5 M1355.2,1610.4 h4.6" stroke-width="1.25"/>
<path d="M677.5,850.1 h6.3 M677.5,852.8 h7.9 M677.5,855.7 h11.2 M677.5,858.2 h7.3" />
<path d="M687.5,847.4 v4.5 M685.2,849.6 h4.6" stroke-width="1.25"/>
<path d="M434.5,968.2 h6.3 M434.5,970.9 h7.9 M434.5,973.8 h11.2 M434.5,976.3 h7.3" />
<path d="M444.5,965.5 v4.5 M442.2,967.7 h4.6" stroke-width="1.25"/>
<path d="M358.5,1022.3 h6.3 M358.5,1025.0 h7.9 M358.5,1027.9 h11.2 M358.5,1030.4 h7.3" />
<path d="M368.5,1019.6 v4.5 M366.2,1021.8 h4.6" stroke-width="1.25"/>
<path d="M574.5,1186.8 h6.3 M574.5,1189.5 h7.9 M574.5,1192.4 h11.2 M574.5,1194.9 h7.3" />
<path d="M584.5,1184.1 v4.5 M582.2,1186.3 h4.6" stroke-width="1.25"/>
<path d="M490.5,1535.2 h6.3 M490.5,1537.9 h7.9 M490.5,1540.8 h11.2 M490.5,1543.3 h7.3" />
<path d="M500.5,1532.5 v4.5 M498.2,1534.7 h4.6" stroke-width="1.25"/>
</g>
</svg>
<div id="tl">
<div class="t main" id="t0" style="left:880.3px;top:484.0px;line-height:24.0px;transform:scaleX(0.8856);transform-origin:0 0">Branch</div>
<div class="t blue" id="t1" style="left:1013.9px;top:58.0px;line-height:16.0px;transform:scaleX(0.96);transform-origin:0 0">A branch in Git is simply a lightweight<br>movable pointer to one of these commits</div>
<div class="t n" id="t2" style="left:1013.9px;top:116.1px;line-height:16.2px;transform:scaleX(0.9996);transform-origin:0 0">create a new local branch</div>
<div class="t b" id="t3" style="left:1228.0px;top:116.1px;line-height:16.2px;transform:scaleX(0.96);transform-origin:0 0">$<i>git_branch</i>&lt;branch_name&gt;</div>
<div class="t n" id="t4" style="left:1013.9px;top:163.9px;line-height:16.2px;transform:scaleX(0.9903);transform-origin:0 0">show all local branches</div>
<div class="t b" id="t5" style="left:1212.6px;top:163.9px;line-height:16.2px;transform:scaleX(0.96);transform-origin:0 0">$_git_branch</div>
<div class="t n" id="t6" style="left:1013.9px;top:212.2px;line-height:16.2px;transform:scaleX(1.0161);transform-origin:0 0">switch to a local branch</div>
<div class="t b" id="t7" style="left:1217.3px;top:212.2px;line-height:16.2px;transform:scaleX(0.96);transform-origin:0 0">$<i>git_checkout</i>&lt;branch_name&gt;</div>
<div class="t n" id="t8" style="left:1013.9px;top:254.0px;line-height:16.2px;transform:scaleX(1.0095);transform-origin:0 0">create a new branch &amp; checkout</div>
<div class="t b" id="t9" style="left:1267.0px;top:254.2px;line-height:16.2px;transform:scaleX(0.96);transform-origin:0 0">$<i>git_checkout</i>-b_&lt;branch_name&gt;</div>
<div class="t n" id="t10" style="left:1013.9px;top:302.3px;line-height:16.2px;transform:scaleX(1.0076);transform-origin:0 0">delete a local branch after merging</div>
<div class="t b" id="t11" style="left:1317.9px;top:302.3px;line-height:16.2px;transform:scaleX(0.96);transform-origin:0 0">$<i>git_branch</i>-d_&lt;branch_name&gt;</div>
<div class="t n" id="t12" style="left:1013.9px;top:350.1px;line-height:16.2px;transform:scaleX(1.0174);transform-origin:0 0">delete a local branch without merging</div>
<div class="t b" id="t13" style="left:1299.1px;top:350.1px;line-height:16.2px;transform:scaleX(0.96);transform-origin:0 0">$<i>git_branch</i>-D_&lt;branch_name&gt;</div>
<div class="t n" id="t14" style="left:1013.9px;top:398.4px;line-height:16.2px;transform:scaleX(0.9788);transform-origin:0 0">rename a branch</div>
<div class="t b" id="t15" style="left:1175.8px;top:398.4px;line-height:16.2px;transform:scaleX(0.96);transform-origin:0 0">$<i>git_branch</i>-m/-M_&lt;old&gt;_&lt;new&gt;</div>
<div class="t n" id="t16" style="left:1013.9px;top:446.3px;line-height:16.2px;transform:scaleX(1.0041);transform-origin:0 0">remove a remote branch</div>
<div class="t b" id="t17" style="left:1221.7px;top:446.3px;line-height:16.2px;transform:scaleX(0.96);transform-origin:0 0">$<i>git_push_origin</i>:&lt;banch&gt;</div>
<div class="t n" id="t18" style="left:1013.9px;top:488.5px;line-height:16.2px;transform:scaleX(1.0037);transform-origin:0 0">see the last commit on each branch</div>
<div class="t n" id="t19" style="left:1286.0px;top:488.5px;line-height:16.2px;transform:scaleX(1.0287);transform-origin:0 0">git branch -v</div>
<div class="t n" id="t20" style="left:1013.9px;top:530.2px;line-height:16.2px;transform:scaleX(1.0035);transform-origin:0 0">list merged branches</div>
<div class="t n" id="t21" style="left:1200.6px;top:530.2px;line-height:16.2px;transform:scaleX(1.0168);transform-origin:0 0">git branch –merged</div>
<div class="t n" id="t22" style="left:1013.9px;top:572.4px;line-height:16.2px;transform:scaleX(1.0071);transform-origin:0 0">list unmerged branches</div>
<div class="t n" id="t23" style="left:1215.6px;top:572.4px;line-height:16.2px;transform:scaleX(1.0366);transform-origin:0 0">branch --no-merged</div>
<div class="t n" id="t24" style="left:1013.9px;top:768.5px;line-height:16.2px;transform:scaleX(1.0169);transform-origin:0 0">tracking remote branch</div>
<div class="t n" id="t25" style="left:1215.0px;top:635.3px;line-height:16.2px;transform:scaleX(1.0123);transform-origin:0 0">automatically create new branch and track<br>the remote</div>
<div class="t n" id="t26" style="left:1526.7px;top:614.2px;line-height:16.2px;transform:scaleX(0.9924);transform-origin:0 0">git checkout --track origin/serverfix (local<br>brach will have the same name as remote)</div>
<div class="t n" id="t27" style="left:1526.7px;top:672.2px;line-height:16.2px;transform:scaleX(1.0206);transform-origin:0 0">if you want different name you can run</div>
<div class="t n" id="t28" style="left:1817.1px;top:672.2px;line-height:16.2px;transform:scaleX(1.0346);transform-origin:0 0">git checkout -b [branch] [remotename]/[branch].</div>
<div class="t n" id="t29" style="left:1215.0px;top:714.1px;line-height:16.2px;transform:scaleX(1.0115);transform-origin:0 0">push to tracking branch</div>
<div class="t n" id="t30" style="left:1418.0px;top:714.0px;line-height:16.2px;transform:scaleX(0.9958);transform-origin:0 0">git push remote_name HEAD:remoteBranch</div>
<div class="t n" id="t31" style="left:1215.0px;top:756.3px;line-height:16.2px;transform:scaleX(1.0080);transform-origin:0 0">set upstream  branch</div>
<div class="t n" id="t32" style="left:1403.9px;top:756.2px;line-height:16.2px;transform:scaleX(1.0280);transform-origin:0 0">git branch -u origin/serverfix</div>
<div class="t n" id="t33" style="left:1215.0px;top:831.3px;line-height:16.2px;transform:scaleX(1.0240);transform-origin:0 0">info about tracking branch</div>
<div class="t n" id="t34" style="left:1433.8px;top:798.3px;line-height:16.2px;transform:scaleX(1.0090);transform-origin:0 0">This will list out your local branches with<br>more information<br>including what each branch is tracking and<br>if your local branch is<br>ahead, behind or both.d</div>
<div class="t n" id="t35" style="left:1746.8px;top:831.0px;line-height:16.2px;transform:scaleX(1.0442);transform-origin:0 0">git branch -vv</div>
<div class="t n" id="t36" style="left:1215.0px;top:913.0px;line-height:16.2px;transform:scaleX(1.0155);transform-origin:0 0">untrack remote branch</div>
<div class="t n" id="t37" style="left:1412.4px;top:905.8px;line-height:16.2px;transform:scaleX(1.0066);transform-origin:0 0">git push origin --delete branchName( Basically all this does is<br>remove the pointer from the server )</div>
<div class="t main" id="t38" style="left:899.9px;top:1092.2px;line-height:24.0px;transform:scaleX(0.9680);transform-origin:0 0">Merge</div>
<div class="t n" id="t39" style="left:1024.9px;top:1005.7px;line-height:16.2px;transform:scaleX(1.0202);transform-origin:0 0">merge current branch w/ other branch</div>
<div class="t b" id="t40" style="left:1312.4px;top:1005.7px;line-height:16.2px;transform:scaleX(0.96);transform-origin:0 0">$<i>git_merge</i>&lt;branch_name&gt;</div>
<div class="t n" id="t41" style="left:1024.9px;top:1047.9px;line-height:16.2px;transform:scaleX(1.0394);transform-origin:0 0">setup diffmerge</div>
<div class="t b" id="t42" style="left:1184.0px;top:1047.9px;line-height:16.2px;transform:scaleX(0.96);transform-origin:0 0">$<i>git_mergetool</i>-t_diffmerge</div>
<div class="t n" id="t43" style="left:1024.9px;top:1111.0px;line-height:16.2px;transform:scaleX(1.0377);transform-origin:0 0">type of merge</div>
<div class="t n" id="t44" style="left:1173.0px;top:1089.6px;line-height:16.2px;transform:scaleX(1.0650);transform-origin:0 0">fast-forward</div>
<div class="t n" id="t45" style="left:1173.0px;top:1131.8px;line-height:16.2px;transform:scaleX(1.0282);transform-origin:0 0">three-way merge</div>
<div class="t n" id="t46" style="left:1024.9px;top:1174.0px;line-height:16.2px;transform:scaleX(1.0475);transform-origin:0 0">after fetching remote (to show you the diff<br>between your branch and remote .)</div>
<div class="t n" id="t47" style="left:1340.8px;top:1182.1px;line-height:16.2px;transform:scaleX(1.0234);transform-origin:0 0">git log --no-merges issue54..origin/master</div>
<div class="t main" id="t48" style="left:914.3px;top:1271.1px;line-height:24.0px;transform:scaleX(0.8903);transform-origin:0 0">RM</div>
<div class="t n" id="t49" style="left:1011.5px;top:1269.3px;line-height:16.2px;transform:scaleX(1.0184);transform-origin:0 0">stage a file to be removed from<br>local repo and workspace</div>
<div class="t b" id="t50" style="left:1259.7px;top:1277.3px;line-height:16.2px;transform:scaleX(0.96);transform-origin:0 0">$<i>git_rm</i>&lt;file_name&gt;</div>
<div class="t main" id="t51" style="left:921.3px;top:1353.3px;line-height:24.0px;transform:scaleX(0.9113);transform-origin:0 0">Rename File</div>
<div class="t b" id="t52" style="left:1102.0px;top:1359.4px;line-height:16.2px;transform:scaleX(0.9239);transform-origin:0 0">$git_mv _file_old_name ____file_new_name</div>
<div class="t main" id="t53" style="left:917.1px;top:1759.1px;line-height:24.0px;transform:scaleX(0.9715);transform-origin:0 0">Amend/Revert/Reset</div>
<div class="t n" id="t54" style="left:1171.8px;top:1443.2px;line-height:16.2px;transform:scaleX(0.9912);transform-origin:0 0">amend</div>
<div class="t n" id="t55" style="left:1276.4px;top:1443.2px;line-height:16.2px;transform:scaleX(1.0404);transform-origin:0 0">$<i>git_commit</i>--amend</div>
<div class="t n" id="t56" style="left:1171.8px;top:1522.0px;line-height:16.2px;transform:scaleX(1.0291);transform-origin:0 0">revert</div>
<div class="t n" id="t57" style="left:1271.7px;top:1484.9px;line-height:16.2px;transform:scaleX(1.0304);transform-origin:0 0">$_git_revert #idcommit</div>
<div class="t n" id="t58" style="left:1271.7px;top:1527.2px;line-height:16.2px;transform:scaleX(1.0342);transform-origin:0 0">git revert -n #idcommit (will not create<br>commit autoatically you need to commit<br>explicitly )</div>
<div class="t n" id="t59" style="left:1171.8px;top:1844.2px;line-height:16.2px;transform:scaleX(1.0067);transform-origin:0 0">reset</div>
<div class="t n" id="t60" style="left:1267.0px;top:1606.9px;line-height:16.2px;transform:scaleX(0.9887);transform-origin:0 0">$_git_reset</div>
<div class="t n" id="t61" style="left:1267.0px;top:1655.1px;line-height:16.2px;transform:scaleX(1.0273);transform-origin:0 0"># to unstage file</div>
<div class="t b" id="t62" style="left:1427.2px;top:1655.1px;line-height:16.2px;transform:scaleX(0.9376);transform-origin:0 0">$_git__reset__HEAD__CONTRIBUTING.md</div>
<div class="t n" id="t63" style="left:1267.0px;top:1697.1px;line-height:16.2px;transform:scaleX(1.0131);transform-origin:0 0">to discard changes in working directory .</div>
<div class="t b" id="t64" style="left:1568.1px;top:1697.1px;line-height:16.2px;transform:scaleX(0.9740);transform-origin:0 0">$_git__checkout -- &lt;file&gt;.</div>
<div class="t n" id="t65" style="left:1267.0px;top:1739.1px;line-height:16.2px;transform:scaleX(1.0179);transform-origin:0 0">return head back to last commit , but will<br>not change anything in index or tree</div>
<div class="t n" id="t66" style="left:1568.8px;top:1747.2px;line-height:16.2px;transform:scaleX(1.0132);transform-origin:0 0">git rest –soft HEAD~</div>
<div class="t n" id="t67" style="left:1267.0px;top:1796.9px;line-height:16.2px;transform:scaleX(1.0213);transform-origin:0 0">reset will do is to update the Index with the<br>contents of<br>whatever snapshot HEAD now points to.</div>
<div class="t n" id="t68" style="left:1582.9px;top:1812.9px;line-height:16.2px;transform:scaleX(1.0003);transform-origin:0 0">git rest –mixed HEAD~</div>
<div class="t n" id="t69" style="left:1267.0px;top:1871.1px;line-height:16.2px;transform:scaleX(0.9794);transform-origin:0 0">reset all   head and index and tree same</div>
<div class="t n" id="t70" style="left:1560.0px;top:1871.1px;line-height:16.2px;transform:scaleX(0.9912);transform-origin:0 0">git rest –hard  HEAD~</div>
<div class="t n" id="t71" style="left:1267.0px;top:1913.0px;line-height:16.2px;transform:scaleX(1.0175);transform-origin:0 0">reset file</div>
<div class="t n" id="t72" style="left:1383.0px;top:1913.0px;line-height:16.2px;transform:scaleX(1.0023);transform-origin:0 0">Git rest filename   (same as --mixed)</div>
<div class="t n" id="t73" style="left:1267.0px;top:1955.3px;line-height:16.2px;transform:scaleX(1.0115);transform-origin:0 0">Git rest Commit_number  -- filename  ( same as<br>--mixed)</div>
<div class="t n" id="t74" style="left:1267.0px;top:2013.0px;line-height:16.2px;transform:scaleX(1.0209);transform-origin:0 0">move the HEAD branch back to<br>an older commit</div>
<div class="t n" id="t75" style="left:1519.0px;top:2021.0px;line-height:16.2px;transform:scaleX(1.0296);transform-origin:0 0">git reset --soft HEAD~2</div>
<div class="t n" id="t76" style="left:1267.0px;top:2071.3px;line-height:16.2px;transform:scaleX(1.0368);transform-origin:0 0">move the HEAD branch back to<br>an specific commit</div>
<div class="t n" id="t77" style="left:1522.0px;top:2079.3px;line-height:16.2px;transform:scaleX(1.0276);transform-origin:0 0">git reset --hard abe254d</div>
<div class="t main" id="t78" style="left:950.8px;top:2330.1px;line-height:24.0px;transform:scaleX(0.9009);transform-origin:0 0">Rebase</div>
<div class="t n" id="t79" style="left:1086.5px;top:2192.0px;line-height:16.2px;transform:scaleX(0.9584);transform-origin:0 0">$_git_rebase__branch_name</div>
<div class="t n" id="t80" style="left:1086.5px;top:2259.0px;line-height:16.2px;transform:scaleX(0.9956);transform-origin:0 0">rebase process</div>
<div class="t n" id="t81" style="left:1240.7px;top:2234.2px;line-height:16.2px;transform:scaleX(1.0517);transform-origin:0 0">$git checkout experiment<br>$ git rebase master<br>$ git checkout master<br>$ git merge experiment</div>
<div class="t n" id="t82" style="left:1086.5px;top:2324.8px;line-height:16.2px;transform:scaleX(1.0046);transform-origin:0 0">revert last rebase</div>
<div class="t n" id="t83" style="left:1252.6px;top:2324.8px;line-height:16.2px;transform:scaleX(0.9975);transform-origin:0 0">git reset --hard ORIG_HEAD</div>
<div class="t n" id="t84" style="left:1086.5px;top:2382.8px;line-height:16.2px;transform:scaleX(0.9879);transform-origin:0 0">advance rebasing</div>
<div class="t n" id="t85" style="left:1253.7px;top:2367.0px;line-height:16.2px;transform:scaleX(1.0359);transform-origin:0 0">$git rebase --onto master server client<br>$git checkout master<br>$ git merge client</div>
<div class="t n" id="t86" style="left:1086.5px;top:2459.9px;line-height:16.2px;transform:scaleX(0.9977);transform-origin:0 0">rebase role</div>
<div class="t red" id="t87" style="left:1220.5px;top:2443.2px;line-height:24.2px"># you only rebase commits that have never<br>been available publicly,</div>
<div class="t main" id="t88" style="left:1004.4px;top:2806.1px;line-height:24.0px;transform:scaleX(0.9672);transform-origin:0 0">remote</div>
<div class="t n" id="t89" style="left:1136.7px;top:2665.1px;line-height:16.2px;transform:scaleX(1.0264);transform-origin:0 0">add remote</div>
<div class="t n" id="t90" style="left:1269.9px;top:2665.1px;line-height:16.2px;transform:scaleX(1.0190);transform-origin:0 0">git remote add &lt;shortname&gt; &lt;url&gt;:</div>
<div class="t n" id="t91" style="left:1136.7px;top:2706.8px;line-height:16.2px;transform:scaleX(1.0050);transform-origin:0 0">show all remote</div>
<div class="t n" id="t92" style="left:1293.8px;top:2706.8px;line-height:16.2px;transform:scaleX(1.0519);transform-origin:0 0">git remote -v</div>
<div class="t n" id="t93" style="left:1136.7px;top:2749.0px;line-height:16.2px;transform:scaleX(1.0249);transform-origin:0 0">remove remote</div>
<div class="t n" id="t94" style="left:1292.0px;top:2749.0px;line-height:16.2px;transform:scaleX(1.0060);transform-origin:0 0">git remote  rm remote_name</div>
<div class="t n" id="t95" style="left:1136.7px;top:2790.8px;line-height:16.2px;transform:scaleX(1.0005);transform-origin:0 0">rename remote</div>
<div class="t n" id="t96" style="left:1291.0px;top:2790.8px;line-height:16.2px;transform:scaleX(0.9914);transform-origin:0 0">git remote  rename old_name new_name</div>
<div class="t n" id="t97" style="left:1136.7px;top:2833.0px;line-height:16.2px;transform:scaleX(1.0322);transform-origin:0 0">show specific remote</div>
<div class="t n" id="t98" style="left:1327.6px;top:2833.0px;line-height:16.2px;transform:scaleX(1.0378);transform-origin:0 0">git remote show [remote-name]</div>
<div class="t n" id="t99" style="left:1136.7px;top:2875.2px;line-height:16.2px;transform:scaleX(1.0171);transform-origin:0 0">push to remote branch</div>
<div class="t n" id="t100" style="left:1335.1px;top:2875.2px;line-height:16.2px;transform:scaleX(1.0248);transform-origin:0 0">git push [remote-name] [branch-name].</div>
<div class="t n" id="t101" style="left:1136.7px;top:2917.0px;line-height:16.2px;transform:scaleX(1.0542);transform-origin:0 0">fetch from remote</div>
<div class="t n" id="t102" style="left:1309.8px;top:2917.0px;line-height:16.2px;transform:scaleX(1.0407);transform-origin:0 0">git fetch remotename</div>
<div class="t n" id="t103" style="left:1136.7px;top:2958.7px;line-height:16.2px;transform:scaleX(1.0171);transform-origin:0 0">push to remote branch</div>
<div class="t n" id="t104" style="left:1335.1px;top:2958.7px;line-height:16.2px;transform:scaleX(1.0093);transform-origin:0 0">git push -u origin featureB:featureBee</div>
<div class="t main" id="t105" style="left:1007.7px;top:3300.2px;line-height:24.0px;transform:scaleX(0.9393);transform-origin:0 0">taging (to mark releases )</div>
<div class="t purple" id="t106" style="left:1310.8px;top:3031.6px;line-height:24.15px">lightweight :<br>A lightweight tag is very much like a<br>branch that doesn’t change – it’s just a<br>pointer to a specific commit.</div>
<div class="t n" id="t107" style="left:1756.0px;top:3072.3px;line-height:16.2px;transform:scaleX(1.0404);transform-origin:0 0"># create lightweight tag</div>
<div class="t n" id="t108" style="left:1961.0px;top:3072.3px;line-height:16.2px;transform:scaleX(1.0212);transform-origin:0 0">git tag v1.4-lw</div>
<div class="t purple" id="t109" style="left:1310.8px;top:3159.7px;line-height:23.85px">annotated :<br>Annotated tags, however, are stored as full<br>objects in the Git database.<br>They’re checksummed; contain the tagger<br>name, email, and date; have a tagging<br>message; and can be signed and verified<br>with GNU Privacy Guard (GPG).</div>
<div class="t n" id="t110" style="left:1767.0px;top:3236.2px;line-height:16.2px;transform:scaleX(1.0229);transform-origin:0 0">create annotated tag</div>
<div class="t n" id="t111" style="left:1954.9px;top:3236.2px;line-height:16.2px;transform:scaleX(0.9864);transform-origin:0 0">git tag -a v1.4 -m "my version 1.4</div>
<div class="t n" id="t112" style="left:1307.0px;top:3356.2px;line-height:16.2px;transform:scaleX(1.0336);transform-origin:0 0">to show specific  tag</div>
<div class="t n" id="t113" style="left:1493.7px;top:3356.2px;line-height:16.2px;transform:scaleX(0.9898);transform-origin:0 0">git show v1.4</div>
<div class="t n" id="t114" style="left:1307.0px;top:3398.2px;line-height:16.2px;transform:scaleX(1.0383);transform-origin:0 0">taging later to sepecific commit</div>
<div class="t n" id="t115" style="left:1557.7px;top:3398.2px;line-height:16.2px;transform:scaleX(1.0174);transform-origin:0 0">git tag -a v1.2 9fceb02</div>
<div class="t n" id="t116" style="left:1307.0px;top:3461.3px;line-height:16.2px;transform:scaleX(1.0065);transform-origin:0 0">push tag</div>
<div class="t n" id="t117" style="left:1422.8px;top:3440.0px;line-height:16.2px;transform:scaleX(0.9988);transform-origin:0 0">push one tag</div>
<div class="t n" id="t118" style="left:1563.8px;top:3440.0px;line-height:16.2px;transform:scaleX(0.9915);transform-origin:0 0">git push origin v1.5</div>
<div class="t n" id="t119" style="left:1422.8px;top:3482.0px;line-height:16.2px;transform:scaleX(0.9904);transform-origin:0 0">push all tags</div>
<div class="t n" id="t120" style="left:1561.3px;top:3482.0px;line-height:16.2px;transform:scaleX(1.0102);transform-origin:0 0">$ git push origin –tags</div>
<div class="t n" id="t121" style="left:1307.0px;top:3523.8px;line-height:16.2px;transform:scaleX(0.9913);transform-origin:0 0">create new branch and mark it as release</div>
<div class="t n" id="t122" style="left:1608.9px;top:3523.8px;line-height:16.2px;transform:scaleX(1.0273);transform-origin:0 0">Git checkout -b [branchname] [tagname]</div>
<div class="t n" id="t123" style="left:1307.0px;top:3573.9px;line-height:16.2px;transform:scaleX(1.0329);transform-origin:0 0">git delete tag</div>
<div class="t n" id="t124" style="left:1449.8px;top:3566.1px;line-height:16.2px;transform:scaleX(0.9835);transform-origin:0 0">git tag -d v1.1<br>git push  origin -d v1.1</div>
<div class="t main" id="t125" style="left:1007.9px;top:3776.9px;line-height:24.0px;transform:scaleX(0.9244);transform-origin:0 0">merge vs rebase</div>
<div class="t big" id="t126" style="left:1230.7px;top:3623.3px;line-height:23.9px">By merging you create a new commit with<br>the result of the fusion of the target branch<br>and source branch.<br><br>With rebase you put the commit of the<br>current branch on top of the source branch.<br><br><br>Usage rules:<br>* use rebase on your own branch before<br>asking for a merge in order to have a clean<br>history<br>* use merge when you work with other<br>people on the same branch</div>
<div class="t main" id="t127" style="left:1008.2px;top:4096.1px;line-height:24.0px;transform:scaleX(0.9759);transform-origin:0 0">Note</div>
<div class="t n" id="t128" style="left:1119.0px;top:3996.1px;line-height:16.25px;transform:scaleX(1.0035);transform-origin:0 0">You are asked to pull before you push,<br>because someone pushed changes to the<br>server, after your last pull, so our local copy<br>and the current server copy are not in sync.<br>Pulling will merge the remote copy with<br>your local one, which brings them back into<br>sync and allows you to push.<br>The reason that you are not allowed to<br>push straight away, is that this will need<br>merging and mightlead to conflicts which<br>need manual resolving. To avoid merging<br>errors and conflicts, merging must always<br>be done on the client side, never on the<br>server.</div>
<div class="t main" id="t129" style="left:1007.3px;top:4305.5px;line-height:24.8px;transform:scaleX(0.9544);transform-origin:0 0">cherry-pick (to pick commit and<br>copy it to other branch)</div>
<div class="t n" id="t130" style="left:1363.9px;top:4286.6px;line-height:16.2px;transform:scaleX(1.0422);transform-origin:0 0">git cherry-pick commitID</div>
<div class="t n" id="t131" style="left:1363.9px;top:4327.1px;line-height:16.5px;transform:scaleX(1.0625);transform-origin:0 0">git cherry-pick #idcomit -e (edit commit)<br>-x(hint that i sis cherry picked fromother<br>brach )</div>
<div class="t main" id="t132" style="left:767.0px;top:861.4px;line-height:24.0px;transform:scaleX(0.9233);transform-origin:0 0">Add</div>
<div class="t n" id="t133" style="right:1540.5px;top:846.1px;line-height:16.2px;transform:scaleX(0.9951);transform-origin:100% 0">add a file(s) to index</div>
<div class="t b" id="t134" style="right:1727.0px;top:846.1px;line-height:16.2px;transform:scaleX(0.9656);transform-origin:100% 0">$<i>git_add</i>&lt;file_name&gt;</div>
<div class="t n" id="t135" style="right:1504.4px;top:894.2px;line-height:16.2px;transform:scaleX(0.9980);transform-origin:100% 0">add all new &amp; changed files to index</div>
<div class="t b" id="t136" style="right:1780.2px;top:894.2px;line-height:16.2px;transform:scaleX(0.9391);transform-origin:100% 0">$<i>git_add.</i></div>
<div class="t main" id="t137" style="left:731.9px;top:1026.9px;line-height:24.0px;transform:scaleX(0.9546);transform-origin:0 0">Commit</div>
<div class="t n" id="t138" style="right:1538.9px;top:964.2px;line-height:16.2px;transform:scaleX(1.0226);transform-origin:100% 0">commit staged changes</div>
<div class="t b" id="t139" style="right:1783.5px;top:964.2px;line-height:16.2px;transform:scaleX(0.9593);transform-origin:100% 0">$_git_commit</div>
<div class="t n" id="t140" style="right:1538.9px;top:1018.3px;line-height:16.2px;transform:scaleX(1.0270);transform-origin:100% 0">commit from workspace to local repo</div>
<div class="t b" id="t141" style="right:1859.5px;top:1018.3px;line-height:16.2px;transform:scaleX(0.9814);transform-origin:100% 0">$<i>git_commit</i>-a</div>
<div class="t n" id="t142" style="right:1538.9px;top:1066.3px;line-height:16.2px;transform:scaleX(1.0191);transform-origin:100% 0">commit with a specified message</div>
<div class="t b" id="t143" style="right:1802.8px;top:1066.3px;line-height:16.2px;transform:scaleX(0.9746);transform-origin:100% 0">$<i>git_commit</i>-m_&lt;message&gt;</div>
<div class="t n" id="t144" style="right:1538.9px;top:1108.3px;line-height:16.2px;transform:scaleX(1.0152);transform-origin:100% 0">show diff when creating message</div>
<div class="t b" id="t145" style="right:1803.8px;top:1108.3px;line-height:16.2px;transform:scaleX(0.9542);transform-origin:100% 0">$<i>git_commit</i>-v</div>
<div class="t main" id="t146" style="left:663.1px;top:1298.3px;line-height:24.0px;transform:scaleX(0.9881);transform-origin:0 0">Diff/ls-files</div>
<div class="t n" id="t147" style="right:1643.5px;top:1182.8px;line-height:16.2px;transform:scaleX(1.0085);transform-origin:100% 0">show cached files</div>
<div class="t b" id="t148" style="right:1817.0px;top:1182.8px;line-height:16.2px;transform:scaleX(0.9395);transform-origin:100% 0">$_git_ls-files</div>
<div class="t n" id="t149" style="right:1608.8px;top:1231.0px;line-height:16.2px;transform:scaleX(1.0106);transform-origin:100% 0">diff working and index (What have you<br>changed but not yet staged? )</div>
<div class="t b" id="t150" style="right:1900.8px;top:1238.6px;line-height:16.2px;transform:scaleX(0.9274);transform-origin:100% 0">$_git_diff</div>
<div class="t n" id="t151" style="right:1608.8px;top:1289.0px;line-height:16.2px;transform:scaleX(1.0081);transform-origin:100% 0">diff working and HEAD</div>
<div class="t b" id="t152" style="right:1809.9px;top:1289.0px;line-height:16.2px;transform:scaleX(0.9572);transform-origin:100% 0">$_git_diff_HEAD</div>
<div class="t n" id="t153" style="right:1608.8px;top:1330.6px;line-height:16.2px;transform:scaleX(0.9953);transform-origin:100% 0">diff index and HEAD</div>
<div class="t b" id="t154" style="right:1795.2px;top:1330.6px;line-height:16.2px;transform:scaleX(0.9538);transform-origin:100% 0">$<i>git_diff</i>--cached</div>
<div class="t n" id="t155" style="right:1608.8px;top:1372.7px;line-height:16.2px;transform:scaleX(1.0054);transform-origin:100% 0">diff index and HEAD (what have you staged<br>that you are about to commit? )</div>
<div class="t b" id="t156" style="right:1930.9px;top:1380.9px;line-height:16.2px;transform:scaleX(0.9689);transform-origin:100% 0">$git__diff__ –statged</div>
<div class="t n" id="t157" style="right:1608.8px;top:1430.7px;line-height:16.2px;transform:scaleX(1.0595);transform-origin:100% 0">diff between two commit</div>
<div class="t n" id="t158" style="right:1822.3px;top:1430.7px;line-height:16.2px;transform:scaleX(1.0261);transform-origin:100% 0">git diff HEAD 46b186c</div>
<div class="t main" id="t159" style="left:701.9px;top:1800.5px;line-height:24.0px;transform:scaleX(0.9389);transform-origin:0 0">Log/Blame</div>
<div class="t n" id="t160" style="right:1569.1px;top:1531.2px;line-height:16.2px;transform:scaleX(1.0056);transform-origin:100% 0">show log</div>
<div class="t b" id="t161" style="right:1727.5px;top:1531.2px;line-height:16.2px;transform:scaleX(0.9250);transform-origin:100% 0">$_git_log</div>
<div class="t n" id="t162" style="right:1569.1px;top:1579.3px;line-height:16.2px;transform:scaleX(1.0122);transform-origin:100% 0">show blame info</div>
<div class="t b" id="t163" style="right:1733.8px;top:1579.3px;line-height:16.2px;transform:scaleX(0.9757);transform-origin:100% 0">$<i>git_blame</i>&lt;file_name&gt;</div>
<div class="t n" id="t164" style="right:1569.1px;top:1621.3px;line-height:16.2px;transform:scaleX(1.0279);transform-origin:100% 0">view certain number of commit</div>
<div class="t b" id="t165" style="right:1819.8px;top:1621.3px;line-height:16.2px;transform:scaleX(0.9561);transform-origin:100% 0">$<i>git__log_</i>-p__-2</div>
<div class="t n" id="t166" style="right:1569.1px;top:1683.8px;line-height:16.2px;transform:scaleX(1.0279);transform-origin:100% 0">to decorate logs</div>
<div class="t n" id="t167" style="right:1730.3px;top:1662.8px;line-height:16.2px;transform:scaleX(1.0317);transform-origin:100% 0">git log --oneline –decorate</div>
<div class="t n" id="t168" style="right:1730.3px;top:1704.9px;line-height:16.2px;transform:scaleX(1.0479);transform-origin:100% 0">git log --oneline --decorate --graph --all</div>
<div class="t n" id="t169" style="right:1569.1px;top:1788.9px;line-height:16.2px;transform:scaleX(1.0009);transform-origin:100% 0">HEAD history</div>
<div class="t n" id="t170" style="right:1713.2px;top:1746.9px;line-height:16.2px;transform:scaleX(1.0186);transform-origin:100% 0">git reflog ( to see HEAD history)</div>
<div class="t n" id="t171" style="right:1713.2px;top:1788.9px;line-height:16.2px;transform:scaleX(1.0143);transform-origin:100% 0">git show HEAD@{5}</div>
<div class="t n" id="t172" style="right:1713.2px;top:1831.0px;line-height:16.2px;transform:scaleX(1.0231);transform-origin:100% 0">git show master@{yesterday}</div>
<div class="t n" id="t173" style="right:1569.1px;top:1951.8px;line-height:16.2px;transform:scaleX(1.0134);transform-origin:100% 0">see the previous commit</div>
<div class="t n" id="t174" style="right:1778.1px;top:1873.1px;line-height:16.2px;transform:scaleX(1.0146);transform-origin:100% 0">git show HEAD^</div>
<div class="t n" id="t175" style="right:1778.1px;top:1915.1px;line-height:16.2px;transform:scaleX(1.0091);transform-origin:100% 0">git show HEAD~2 (show second parent of<br>head )</div>
<div class="t n" id="t176" style="right:1778.1px;top:1973.1px;line-height:16.2px;transform:scaleX(1.0211);transform-origin:100% 0">git show d921970^</div>
<div class="t n" id="t177" style="right:1778.1px;top:2015.1px;line-height:16.2px;transform:scaleX(1.0079);transform-origin:100% 0">git show HEAD~3^2, (show second parent<br>of the third parent)</div>
<div class="t n" id="t178" style="right:1569.1px;top:2073.0px;line-height:16.2px;transform:scaleX(1.0200);transform-origin:100% 0">to get info about who and when file has<br>been changed .</div>
<div class="t n" id="t179" style="right:1865.3px;top:2081.0px;line-height:16.2px;transform:scaleX(0.9740);transform-origin:100% 0">git blame  README.md</div>
<div class="t main" id="t180" style="left:605.8px;top:2236.6px;line-height:24.0px;transform:scaleX(0.9508);transform-origin:0 0">Workflows</div>
<div class="t n" id="t181" style="right:1665.2px;top:2242.0px;line-height:16.2px;transform:scaleX(1.0051);transform-origin:100% 0">create a branch from an origin branch</div>
<div class="t n" id="t182" style="right:1949.5px;top:2184.2px;line-height:16.2px;transform:scaleX(1.0317);transform-origin:100% 0">git remote update</div>
<div class="t n" id="t183" style="right:1949.5px;top:2226.0px;line-height:16.2px;transform:scaleX(1.0236);transform-origin:100% 0">git checkout -b<br>&lt;branch&gt; origin/&lt;branch&gt;</div>
<div class="t n" id="t184" style="right:1949.5px;top:2284.3px;line-height:16.2px;transform:scaleX(1.0205);transform-origin:100% 0">git pull origin<br>&lt;branch&gt;</div>
<div class="t main" id="t185" style="left:566.8px;top:2674.8px;line-height:24.0px;transform:scaleX(0.9578);transform-origin:0 0">git objects</div>
<div class="t n" id="t186" style="right:1704.3px;top:2423.8px;line-height:16.2px;transform:scaleX(1.0492);transform-origin:100% 0">#to show git objects</div>
<div class="t n" id="t187" style="right:1890.4px;top:2423.8px;line-height:16.2px;transform:scaleX(0.9169);transform-origin:100% 0">ls -F1</div>
<div class="t n" id="t188" style="right:1704.3px;top:2465.9px;line-height:16.2px;transform:scaleX(1.0161);transform-origin:100% 0">The description file is only used by the Git-<br>Web program.</div>
<div class="t n" id="t189" style="right:1704.3px;top:2524.1px;line-height:16.2px;transform:scaleX(1.0264);transform-origin:100% 0">The config file contains your project<br>specific configuration options,</div>
<div class="t n" id="t190" style="right:1704.3px;top:2581.8px;line-height:16.2px;transform:scaleX(1.0083);transform-origin:100% 0">the info directory keeps a global exclude<br>file for ignored patterns that you don’t<br>want to track in a .gitignore file.</div>
<div class="t n" id="t191" style="right:1704.3px;top:2656.2px;line-height:16.2px;transform:scaleX(1.0166);transform-origin:100% 0">The hooks directory contains your client- or<br>server-side hook scripts. (triggered by<br>operations such as committing and<br>merging)</div>
<div class="t n" id="t192" style="right:1704.3px;top:2746.9px;line-height:16.2px;transform:scaleX(1.0269);transform-origin:100% 0">The objects directory stores all the content<br>for your database,</div>
<div class="t n" id="t193" style="right:1704.3px;top:2805.1px;line-height:16.2px;transform:scaleX(1.0210);transform-origin:100% 0">the refs directory stores pointers into<br>commit objects in that data (branches),</div>
<div class="t n" id="t194" style="right:1704.3px;top:2862.9px;line-height:16.2px;transform:scaleX(1.0154);transform-origin:100% 0">the HEAD file points to the branch you<br>currently have checked out,</div>
<div class="t n" id="t195" style="right:1704.3px;top:2921.0px;line-height:16.2px;transform:scaleX(1.0077);transform-origin:100% 0">the index file is where Git stores your<br>staging area information.</div>
<div class="t main" id="t196" style="left:723.0px;top:3103.2px;line-height:24.0px;transform:scaleX(0.8906);transform-origin:0 0">Stash</div>
<div class="t n" id="t197" style="right:1548.4px;top:3025.2px;line-height:16.2px;transform:scaleX(1.0147);transform-origin:100% 0">git stash pop</div>
<div class="t n" id="t198" style="right:1548.4px;top:3067.2px;line-height:16.2px;transform:scaleX(1.0083);transform-origin:100% 0">git stash apply</div>
<div class="t n" id="t199" style="right:1548.4px;top:3109.2px;line-height:16.2px;transform:scaleX(1.0129);transform-origin:100% 0">git stash list</div>
<div class="t n" id="t200" style="right:1548.4px;top:3150.9px;line-height:16.2px;transform:scaleX(1.0145);transform-origin:100% 0">git stash drop stash@{2}</div>
<div class="t n" id="t201" style="right:1548.4px;top:3193.1px;line-height:16.2px;transform:scaleX(1.0011);transform-origin:100% 0">git stash branch branchname stashid</div>
<div class="t main" id="t202" style="left:600.4px;top:3280.6px;line-height:24.0px;transform:scaleX(0.8788);transform-origin:0 0">Squash</div>
<div class="t n" id="t203" style="right:1671.7px;top:3278.8px;line-height:16.2px;transform:scaleX(1.0551);transform-origin:100% 0">to combine commits together<br>A conflict may occur</div>
<div class="t n" id="t204" style="right:1914.7px;top:3287.1px;line-height:16.2px;transform:scaleX(0.9974);transform-origin:100% 0">git rebase -i HEAD~3 (sqash 3 commit )</div>
</div>
<div id="git"><span>Git</span></div>
</body></html>
